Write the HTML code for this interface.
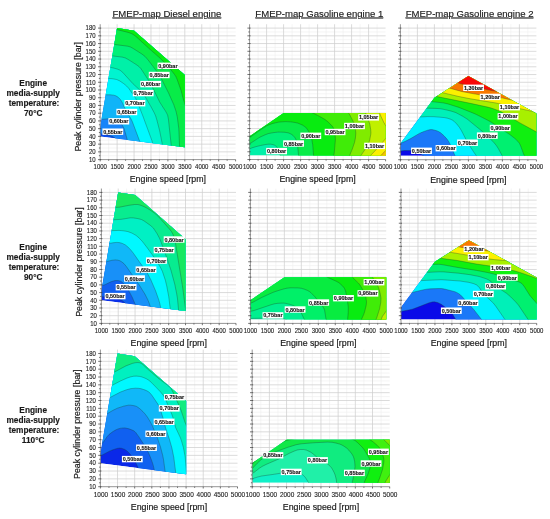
<!DOCTYPE html>
<html><head><meta charset="utf-8"><title>FMEP maps</title><style>html,body{margin:0;padding:0;background:#fff;overflow:hidden;}
svg{display:block;}
text{font-family:'Liberation Sans',Arial,sans-serif;}
.tk{font-size:6.65px;fill:#222;stroke:#222;stroke-width:0.12px;}
.at{font-size:8.8px;fill:#1a1a1a;stroke:#1a1a1a;stroke-width:0.18px;}
.yt{font-size:9.4px;}
.ti{font-size:9.55px;fill:#1a1a1a;stroke:#1a1a1a;stroke-width:0.15px;text-decoration:underline;}
.rl{font-size:8.3px;font-weight:bold;fill:#1a1a1a;stroke:#1a1a1a;stroke-width:0.15px;}
.lb{font-size:5.5px;font-weight:bold;fill:#111;stroke:#111;stroke-width:0.12px;}
</style></head>
<body><svg width="550" height="519" viewBox="0 0 550 519">
<rect width="550" height="519" fill="#fff"/>
<path d="M108.66 24.23V159.60M125.59 24.23V159.60M142.51 24.23V159.60M159.44 24.23V159.60M176.36 24.23V159.60M193.29 24.23V159.60M210.21 24.23V159.60M227.14 24.23V159.60M100.20 155.73H235.60M100.20 148.00H235.60M100.20 140.26H235.60M100.20 132.53H235.60M100.20 124.79H235.60M100.20 117.06H235.60M100.20 109.32H235.60M100.20 101.59H235.60M100.20 93.85H235.60M100.20 86.11H235.60M100.20 78.38H235.60M100.20 70.64H235.60M100.20 62.91H235.60M100.20 55.17H235.60M100.20 47.44H235.60M100.20 39.70H235.60M100.20 31.97H235.60" stroke="#efefef" stroke-width="0.6" fill="none"/>
<path d="M117.12 24.23V159.60M134.05 24.23V159.60M150.97 24.23V159.60M167.90 24.23V159.60M184.82 24.23V159.60M201.75 24.23V159.60M218.67 24.23V159.60M100.20 151.86H235.60M100.20 144.13H235.60M100.20 136.39H235.60M100.20 128.66H235.60M100.20 120.92H235.60M100.20 113.19H235.60M100.20 105.45H235.60M100.20 97.72H235.60M100.20 89.98H235.60M100.20 82.25H235.60M100.20 74.51H235.60M100.20 66.78H235.60M100.20 59.04H235.60M100.20 51.31H235.60M100.20 43.57H235.60M100.20 35.84H235.60M100.20 28.10H235.60" stroke="#cfcfcf" stroke-width="0.75" fill="none"/>
<path d="M258.10 24.24V159.50M275.10 24.24V159.50M292.10 24.24V159.50M309.10 24.24V159.50M326.10 24.24V159.50M343.10 24.24V159.50M360.10 24.24V159.50M377.10 24.24V159.50M249.60 155.64H385.60M249.60 147.91H385.60M249.60 140.18H385.60M249.60 132.45H385.60M249.60 124.72H385.60M249.60 116.99H385.60M249.60 109.26H385.60M249.60 101.53H385.60M249.60 93.80H385.60M249.60 86.07H385.60M249.60 78.34H385.60M249.60 70.61H385.60M249.60 62.88H385.60M249.60 55.15H385.60M249.60 47.42H385.60M249.60 39.69H385.60M249.60 31.96H385.60" stroke="#efefef" stroke-width="0.6" fill="none"/>
<path d="M266.60 24.24V159.50M283.60 24.24V159.50M300.60 24.24V159.50M317.60 24.24V159.50M334.60 24.24V159.50M351.60 24.24V159.50M368.60 24.24V159.50M249.60 151.77H385.60M249.60 144.04H385.60M249.60 136.31H385.60M249.60 128.58H385.60M249.60 120.85H385.60M249.60 113.12H385.60M249.60 105.39H385.60M249.60 97.66H385.60M249.60 89.94H385.60M249.60 82.21H385.60M249.60 74.48H385.60M249.60 66.75H385.60M249.60 59.02H385.60M249.60 51.29H385.60M249.60 43.56H385.60M249.60 35.83H385.60M249.60 28.10H385.60" stroke="#cfcfcf" stroke-width="0.75" fill="none"/>
<path d="M408.90 24.23V159.70M425.90 24.23V159.70M442.90 24.23V159.70M459.90 24.23V159.70M476.90 24.23V159.70M493.90 24.23V159.70M510.90 24.23V159.70M527.90 24.23V159.70M400.40 155.83H536.40M400.40 148.09H536.40M400.40 140.35H536.40M400.40 132.61H536.40M400.40 124.86H536.40M400.40 117.12H536.40M400.40 109.38H536.40M400.40 101.64H536.40M400.40 93.90H536.40M400.40 86.16H536.40M400.40 78.42H536.40M400.40 70.68H536.40M400.40 62.94H536.40M400.40 55.19H536.40M400.40 47.45H536.40M400.40 39.71H536.40M400.40 31.97H536.40" stroke="#efefef" stroke-width="0.6" fill="none"/>
<path d="M417.40 24.23V159.70M434.40 24.23V159.70M451.40 24.23V159.70M468.40 24.23V159.70M485.40 24.23V159.70M502.40 24.23V159.70M519.40 24.23V159.70M400.40 151.96H536.40M400.40 144.22H536.40M400.40 136.48H536.40M400.40 128.74H536.40M400.40 120.99H536.40M400.40 113.25H536.40M400.40 105.51H536.40M400.40 97.77H536.40M400.40 90.03H536.40M400.40 82.29H536.40M400.40 74.55H536.40M400.40 66.81H536.40M400.40 59.06H536.40M400.40 51.32H536.40M400.40 43.58H536.40M400.40 35.84H536.40M400.40 28.10H536.40" stroke="#cfcfcf" stroke-width="0.75" fill="none"/>
<path d="M109.81 188.55V323.40M126.64 188.55V323.40M143.46 188.55V323.40M160.29 188.55V323.40M177.11 188.55V323.40M193.94 188.55V323.40M210.76 188.55V323.40M227.59 188.55V323.40M101.40 319.55H236.00M101.40 311.84H236.00M101.40 304.14H236.00M101.40 296.43H236.00M101.40 288.72H236.00M101.40 281.02H236.00M101.40 273.31H236.00M101.40 265.61H236.00M101.40 257.90H236.00M101.40 250.19H236.00M101.40 242.49H236.00M101.40 234.78H236.00M101.40 227.08H236.00M101.40 219.37H236.00M101.40 211.66H236.00M101.40 203.96H236.00M101.40 196.25H236.00" stroke="#efefef" stroke-width="0.6" fill="none"/>
<path d="M118.23 188.55V323.40M135.05 188.55V323.40M151.88 188.55V323.40M168.70 188.55V323.40M185.53 188.55V323.40M202.35 188.55V323.40M219.18 188.55V323.40M101.40 315.69H236.00M101.40 307.99H236.00M101.40 300.28H236.00M101.40 292.58H236.00M101.40 284.87H236.00M101.40 277.16H236.00M101.40 269.46H236.00M101.40 261.75H236.00M101.40 254.05H236.00M101.40 246.34H236.00M101.40 238.64H236.00M101.40 230.93H236.00M101.40 223.22H236.00M101.40 215.52H236.00M101.40 207.81H236.00M101.40 200.11H236.00M101.40 192.40H236.00" stroke="#cfcfcf" stroke-width="0.75" fill="none"/>
<path d="M258.89 188.55V323.40M275.86 188.55V323.40M292.84 188.55V323.40M309.81 188.55V323.40M326.79 188.55V323.40M343.76 188.55V323.40M360.74 188.55V323.40M377.71 188.55V323.40M250.40 319.55H386.20M250.40 311.84H386.20M250.40 304.14H386.20M250.40 296.43H386.20M250.40 288.72H386.20M250.40 281.02H386.20M250.40 273.31H386.20M250.40 265.61H386.20M250.40 257.90H386.20M250.40 250.19H386.20M250.40 242.49H386.20M250.40 234.78H386.20M250.40 227.08H386.20M250.40 219.37H386.20M250.40 211.66H386.20M250.40 203.96H386.20M250.40 196.25H386.20" stroke="#efefef" stroke-width="0.6" fill="none"/>
<path d="M267.38 188.55V323.40M284.35 188.55V323.40M301.32 188.55V323.40M318.30 188.55V323.40M335.27 188.55V323.40M352.25 188.55V323.40M369.23 188.55V323.40M250.40 315.69H386.20M250.40 307.99H386.20M250.40 300.28H386.20M250.40 292.58H386.20M250.40 284.87H386.20M250.40 277.16H386.20M250.40 269.46H386.20M250.40 261.75H386.20M250.40 254.05H386.20M250.40 246.34H386.20M250.40 238.64H386.20M250.40 230.93H386.20M250.40 223.22H386.20M250.40 215.52H386.20M250.40 207.81H386.20M250.40 200.11H386.20M250.40 192.40H386.20" stroke="#cfcfcf" stroke-width="0.75" fill="none"/>
<path d="M409.48 188.55V323.40M426.44 188.55V323.40M443.41 188.55V323.40M460.37 188.55V323.40M477.33 188.55V323.40M494.29 188.55V323.40M511.26 188.55V323.40M528.22 188.55V323.40M401.00 319.55H536.70M401.00 311.84H536.70M401.00 304.14H536.70M401.00 296.43H536.70M401.00 288.72H536.70M401.00 281.02H536.70M401.00 273.31H536.70M401.00 265.61H536.70M401.00 257.90H536.70M401.00 250.19H536.70M401.00 242.49H536.70M401.00 234.78H536.70M401.00 227.08H536.70M401.00 219.37H536.70M401.00 211.66H536.70M401.00 203.96H536.70M401.00 196.25H536.70" stroke="#efefef" stroke-width="0.6" fill="none"/>
<path d="M417.96 188.55V323.40M434.93 188.55V323.40M451.89 188.55V323.40M468.85 188.55V323.40M485.81 188.55V323.40M502.78 188.55V323.40M519.74 188.55V323.40M401.00 315.69H536.70M401.00 307.99H536.70M401.00 300.28H536.70M401.00 292.58H536.70M401.00 284.87H536.70M401.00 277.16H536.70M401.00 269.46H536.70M401.00 261.75H536.70M401.00 254.05H536.70M401.00 246.34H536.70M401.00 238.64H536.70M401.00 230.93H536.70M401.00 223.22H536.70M401.00 215.52H536.70M401.00 207.81H536.70M401.00 200.11H536.70M401.00 192.40H536.70" stroke="#cfcfcf" stroke-width="0.75" fill="none"/>
<path d="M108.97 349.58V486.70M126.11 349.58V486.70M143.24 349.58V486.70M160.38 349.58V486.70M177.52 349.58V486.70M194.66 349.58V486.70M211.79 349.58V486.70M228.93 349.58V486.70M100.40 482.78H237.50M100.40 474.95H237.50M100.40 467.11H237.50M100.40 459.28H237.50M100.40 451.44H237.50M100.40 443.61H237.50M100.40 435.77H237.50M100.40 427.94H237.50M100.40 420.10H237.50M100.40 412.26H237.50M100.40 404.43H237.50M100.40 396.59H237.50M100.40 388.76H237.50M100.40 380.92H237.50M100.40 373.09H237.50M100.40 365.25H237.50M100.40 357.42H237.50" stroke="#efefef" stroke-width="0.6" fill="none"/>
<path d="M117.54 349.58V486.70M134.68 349.58V486.70M151.81 349.58V486.70M168.95 349.58V486.70M186.09 349.58V486.70M203.22 349.58V486.70M220.36 349.58V486.70M100.40 478.86H237.50M100.40 471.03H237.50M100.40 463.19H237.50M100.40 455.36H237.50M100.40 447.52H237.50M100.40 439.69H237.50M100.40 431.85H237.50M100.40 424.02H237.50M100.40 416.18H237.50M100.40 408.35H237.50M100.40 400.51H237.50M100.40 392.68H237.50M100.40 384.84H237.50M100.40 377.01H237.50M100.40 369.17H237.50M100.40 361.34H237.50M100.40 353.50H237.50" stroke="#cfcfcf" stroke-width="0.75" fill="none"/>
<path d="M260.79 349.58V486.70M277.98 349.58V486.70M295.17 349.58V486.70M312.36 349.58V486.70M329.54 349.58V486.70M346.73 349.58V486.70M363.92 349.58V486.70M381.11 349.58V486.70M252.20 482.78H389.70M252.20 474.95H389.70M252.20 467.11H389.70M252.20 459.28H389.70M252.20 451.44H389.70M252.20 443.61H389.70M252.20 435.77H389.70M252.20 427.94H389.70M252.20 420.10H389.70M252.20 412.26H389.70M252.20 404.43H389.70M252.20 396.59H389.70M252.20 388.76H389.70M252.20 380.92H389.70M252.20 373.09H389.70M252.20 365.25H389.70M252.20 357.42H389.70" stroke="#efefef" stroke-width="0.6" fill="none"/>
<path d="M269.39 349.58V486.70M286.57 349.58V486.70M303.76 349.58V486.70M320.95 349.58V486.70M338.14 349.58V486.70M355.32 349.58V486.70M372.51 349.58V486.70M252.20 478.86H389.70M252.20 471.03H389.70M252.20 463.19H389.70M252.20 455.36H389.70M252.20 447.52H389.70M252.20 439.69H389.70M252.20 431.85H389.70M252.20 424.02H389.70M252.20 416.18H389.70M252.20 408.35H389.70M252.20 400.51H389.70M252.20 392.68H389.70M252.20 384.84H389.70M252.20 377.01H389.70M252.20 369.17H389.70M252.20 361.34H389.70M252.20 353.50H389.70" stroke="#cfcfcf" stroke-width="0.75" fill="none"/>
<clipPath id="cp0"><path d="M100.2 136.4 100.2 127.1 117.1 28.1 134.1 30.8 184.8 75.1 184.8 147.2Z"/></clipPath>
<g clip-path="url(#cp0)">
<path d="M100.2 136.4 100.2 127.1 117.1 28.1 134.1 30.8 184.8 75.1 184.8 147.2Z" fill="#0c4cec"/>
<path d="M98.7 26.1 187.2 26.1 187.2 149.6 118.8 149.6 117.6 143.6 116.8 140.6 116 139.1 114.7 137.8 112.2 136.3 108.7 135.2 104.2 134.2 98.2 133.4 98.2 26.1 98.7 26.1Z" fill="#1884f8" fill-rule="evenodd"/>
<path d="M98.7 26.1 187.2 26.1 187.2 149.6 130.7 149.6 127.2 139.6 125.3 132.6 124 128.6 122.2 125.1 119.7 122.1 118.2 120.9 116.7 120.1 113.2 118.9 109.2 118.7 102.7 119.3 100.7 119.1 98.2 118.4 98.2 26.1 98.7 26.1Z" fill="#10b4f8" fill-rule="evenodd"/>
<path d="M98.7 26.1 187.2 26.1 187.2 149.6 142.6 149.6 141.3 145.6 132.3 121.6 130.8 118.6 126.2 111.1 122.2 102.4 120.5 99.6 118.7 97.8 117.2 96.6 115.7 95.8 113.7 95.2 110.2 94.8 98.2 94.7 98.2 26.1 98.7 26.1Z" fill="#00f8ff" fill-rule="evenodd"/>
<path d="M98.7 26.1 187.2 26.1 187.2 149.6 153.9 149.6 152.9 144.1 151.9 140.6 142.9 116.1 137.2 101.6 136.1 99.1 134.9 97.1 128.7 88.3 126.7 86.1 123.7 83.6 119.7 80.9 116.7 79.5 112.2 78.7 98.2 77.9 98.2 26.1 98.7 26.1Z" fill="#00f4d0" fill-rule="evenodd"/>
<path d="M98.7 26.1 187.2 26.1 187.2 149.6 163.2 149.6 162.1 143.1 159.6 130.6 156.9 120.1 155.7 116.1 154.4 113.1 150.9 106.6 145.1 96.6 143.2 93.6 140.9 91.1 132.8 83.6 122.7 72.4 120.2 70.3 117.7 69.2 113.2 67.9 98.2 65 98.2 26.1 98.7 26.1Z" fill="#00f0a8" fill-rule="evenodd"/>
<path d="M98.7 26.1 187.2 26.1 187.2 149.6 171.7 149.6 168.4 119.1 167.6 115.1 166.1 112.1 159.7 102.1 150.7 83.7 142.2 70.5 140 67.6 138.4 66.1 136.2 64.6 128.2 59.5 125.2 57.9 122.2 57.1 113.2 56 108.7 55.2 103.7 54 98.2 52.4 98.2 26.1 98.7 26.1Z" fill="#00f078" fill-rule="evenodd"/>
<path d="M98.7 26.1 187.2 26.1 187.2 149.6 180.1 149.6 179.5 145.1 178.8 128.6 177.3 117.1 176.1 111.6 173.7 104.5 168.8 93.6 160.8 77.6 158.1 73.1 148.2 60.1 145.2 56.6 142.2 54.3 132.7 48.2 130.2 46.9 127.7 46.2 116.2 44.7 111.7 43.7 105.2 41.5 98.2 38.4 98.2 26.1 98.7 26.1Z" fill="#08ec48" fill-rule="evenodd"/>
<path d="M108.7 26.1 187.2 26.1 187.2 114.6 185.6 106.6 183.3 99.1 181.1 90.6 177 79.1 175.9 76.6 174.6 74.6 168 66.1 160 58.1 149.7 49.1 136.7 37.2 133.7 34.8 131.6 33.6 128.2 32.4 115.7 29.3 110.7 27.3 108.3 26.1 108.7 26.1Z" fill="#08ec10" fill-rule="evenodd"/>
<path d="M118.8 149.6 117.6 143.6 116.8 140.6 116 139.1 114.7 137.8 112.2 136.3 108.7 135.2 104.2 134.2 98.2 133.4M130.7 149.6 127.2 139.6 125.3 132.6 124 128.6 122.2 125.1 119.7 122.1 118.2 120.9 116.7 120.1 113.2 118.9 109.2 118.7 102.7 119.3 100.7 119.1 98.2 118.4M142.6 149.6 141.3 145.6 132.3 121.6 130.8 118.6 126.2 111.1 122.2 102.4 120.5 99.6 118.7 97.8 117.2 96.6 115.7 95.8 113.7 95.2 110.2 94.8 98.2 94.7M153.9 149.6 152.9 144.1 151.9 140.6 142.9 116.1 137.2 101.6 136.1 99.1 134.9 97.1 128.7 88.3 126.7 86.1 123.7 83.6 119.7 80.9 116.7 79.5 112.2 78.7 98.2 77.9M163.2 149.6 162.1 143.1 159.6 130.6 156.9 120.1 155.7 116.1 154.4 113.1 150.9 106.6 145.1 96.6 143.2 93.6 140.9 91.1 132.8 83.6 122.7 72.4 120.2 70.3 117.7 69.2 113.2 67.9 98.2 65M171.7 149.6 168.4 119.1 167.6 115.1 166.1 112.1 159.7 102.1 150.7 83.7 140.9 68.6 139.2 66.8 137 65.1 128.4 59.6 125.2 57.9 122.2 57.1 113.2 56 108.7 55.2 103.7 54 98.2 52.4M180.1 149.6 179.5 145.1 178.8 128.6 177.3 117.1 176.1 111.6 173.7 104.5 168.7 93.3 160.8 77.6 159.4 75.1 157.7 72.6 148.2 60.1 145.2 56.6 142 54.1 132.2 47.9 130.2 46.9 127.7 46.2 116.2 44.7 111.7 43.7 105.2 41.5 98.2 38.4M187.2 114.6 185.6 106.6 183.3 99.1 181.1 90.6 177 79.1 175.9 76.6 174.6 74.6 168 66.1 160 58.1 149.7 49.1 136.7 37.2 133.7 34.8 131.6 33.6 128.2 32.4 115.7 29.3 112.2 27.9 108.3 26.1" fill="none" stroke="#1b3b2b" stroke-opacity="0.6" stroke-width="0.55"/>
</g>
<clipPath id="cp1"><path d="M249.6 155.6 249.6 136.3 283.6 113.1 385.6 113.1 385.6 155.6Z"/></clipPath>
<g clip-path="url(#cp1)">
<path d="M249.6 155.6 249.6 136.3 283.6 113.1 385.6 113.1 385.6 155.6Z" fill="#00f0a8"/>
<path d="M248.1 111.1 388.1 111.1 388.1 158.1 281 158.1 280 155.1 278.6 150.1 277.4 147.6 275.9 146.1 274.4 145.1 272.6 144.5 270.1 144.2 268.1 144.2 265.6 144.5 257.1 146.3 251.3 148.1 247.6 150.2 247.6 111.1 248.1 111.1Z" fill="#00f078" fill-rule="evenodd"/>
<path d="M248.1 111.1 388.1 111.1 388.1 158.1 298.8 158.1 297.4 144.1 296.9 141.6 296.1 139.6 294.2 136.6 292 134.6 289.1 133.1 285.6 132.4 281.1 132.1 277.6 132.1 272.1 132.8 268.1 133.7 264.6 135 260.1 137.1 257.6 138.6 251.6 142.6 249.6 143.6 247.6 144.2 247.6 111.1 248.1 111.1Z" fill="#08ec48" fill-rule="evenodd"/>
<path d="M248.1 111.1 388.1 111.1 388.1 158.1 313.8 158.1 313.4 154.6 312.9 146.1 311.8 139.6 310.5 135.1 307.9 130.1 306.6 128.3 305.5 127.1 304.1 126.1 302.1 124.9 297.6 123.1 292.1 122 287.1 121.6 279.6 121.9 275.6 122.7 270.1 124.4 267.6 125.4 265.1 126.8 258.1 131.4 251.1 136.6 249.6 137.5 247.6 138.3 247.6 111.1 248.1 111.1Z" fill="#08ec10" fill-rule="evenodd"/>
<path d="M248.1 111.1 281.2 111.1 277.1 112.1 273.6 113.3 269.6 114.9 266.1 116.7 261.6 119.5 251.6 127.1 247.6 129.7 247.6 111.1 248.1 111.1ZM307.6 111.1 388.1 111.1 388.1 158.1 333.4 158.1 334.3 152.6 335.4 139.6 335.2 136.1 334.7 132.1 334.1 129.6 333.5 128.1 332.2 126.1 330.3 124.1 327.1 121.1 325.1 119.6 314.6 113.7 311.6 112.5 307.6 111.1Z" fill="#40ec08" fill-rule="evenodd"/>
<path d="M248.1 111.1 256.3 111.1 247.6 117 247.6 111.1 248.1 111.1ZM347.1 111.1 388.1 111.1 388.1 158.1 348.5 158.1 352.1 149.6 354.5 142.6 355.4 138.1 355.8 133.1 355 127.6 353.6 122.4 350.2 115.6 348.6 113.2 346.9 111.1 347.1 111.1Z" fill="#80ec00" fill-rule="evenodd"/>
<path d="M365.1 111.1 388.1 111.1 388.1 158.1 359.5 158.1 361.2 155.1 366 148.1 368.3 144.1 369.6 140.6 370.7 134.6 370.9 132.6 370.8 130.1 369.8 124.1 367.2 116.6 364.8 111.1 365.1 111.1Z" fill="#c0f000" fill-rule="evenodd"/>
<path d="M379.1 111.1 388.1 111.1 388.1 128.5 385.4 125.1 383.6 122.1 380.1 114.4 378.8 111.1 379.1 111.1ZM388.1 135.7 388.1 158.1 369 158.1 370.2 156.1 371.4 154.6 378.1 147.6 388.1 135.7Z" fill="#fcf000" fill-rule="evenodd"/>
<path d="M388.1 148.9 388.1 158.1 379.2 158.1 380.4 156.1 382.6 153.6 385.6 150.7 388.1 148.9Z" fill="#f8c000" fill-rule="evenodd"/>
<path d="M281 158.1 280 155.1 278.6 150.1 277.7 148.1 277 147.1 275.6 145.9 274.4 145.1 273 144.6 270.6 144.2 268.1 144.2 265.1 144.6 260.6 145.5 256.1 146.6 252.1 147.8 250.1 148.7 247.6 150.2M298.8 158.1 297.5 144.6 297.1 142.5 296.5 140.6 295.1 137.9 293.1 135.5 291.1 134.1 288.1 132.8 284.1 132.2 278.1 132.1 273.1 132.7 268.6 133.5 265.6 134.6 260.1 137.1 257.6 138.6 251.6 142.6 249.6 143.6 247.6 144.2M313.8 158.1 312.7 144.6 311.5 138.1 310.3 134.6 307.6 129.7 305.6 127.2 302.5 125.1 297.8 123.1 295.1 122.5 291.1 121.9 285.6 121.6 278.6 122.1 272.6 123.5 268.6 124.9 266.1 126.2 258.6 131.1 251.1 136.6 249.6 137.5 247.6 138.3M281.2 111.1 277.1 112.1 273.6 113.3 269.6 114.9 266.1 116.7 261.6 119.5 251.6 127.1 247.6 129.7M333.4 158.1 334.3 152.6 335.4 139.6 335.2 136.1 334.7 132.1 334.1 129.6 333.5 128.1 332.2 126.1 330.3 124.1 327.1 121.1 325.1 119.6 320.9 117.1 314.3 113.6 311.1 112.3 307.3 111.1M256.3 111.1 247.6 117M348.5 158.1 352.1 149.6 354.5 142.6 355.4 138.1 355.8 133.1 355.6 130.6 354.9 127.1 354.2 124.1 353.5 122.1 349.9 115.1 348.6 113.1 346.9 111.1M359.5 158.1 361.2 155.1 366 148.1 368.3 144.1 369.7 140.1 370.8 134.1 370.9 132.1 370.7 129.6 369.8 124.1 367.2 116.6 364.8 111.1M388.1 128.5 385.6 125.5 383.9 122.6 381.1 116.7 378.8 111.1M369 158.1 370.2 156.1 371.4 154.6 378.1 147.6 388.1 135.7M379.2 158.1 380.4 156.1 382.6 153.6 385.6 150.7 388.1 148.9" fill="none" stroke="#1b3b2b" stroke-opacity="0.6" stroke-width="0.55"/>
</g>
<clipPath id="cp2"><path d="M400.4 155.8 400.4 143.4 434.4 97.8 468.4 76.1 536.4 113.6 536.4 155.8Z"/></clipPath>
<g clip-path="url(#cp2)">
<path d="M400.4 155.8 400.4 143.4 434.4 97.8 468.4 76.1 536.4 113.6 536.4 155.8Z" fill="#0a0ae8"/>
<path d="M398.9 74.1 538.4 74.1 538.4 158.1 427.2 158.1 422.4 155.3 418.3 152.6 416.4 151.8 414.4 151.3 409.9 150.6 404.4 150.5 400.9 150.9 398.4 151.9 398.4 74.1 398.9 74.1Z" fill="#1a78f8" fill-rule="evenodd"/>
<path d="M398.9 74.1 538.4 74.1 538.4 158.1 456.2 158.1 454.7 155.1 451.9 148.1 450.3 144.6 448.4 141 446.4 138.3 442.4 134.2 439.9 132.2 436.1 130.6 431.9 129.6 430.4 129.6 428.4 130 421.9 132.3 418.9 133.7 410.6 138.6 405.8 141.1 401.9 142.7 400.4 143.1 398.4 143.3 398.4 74.1 398.9 74.1Z" fill="#00f0ff" fill-rule="evenodd"/>
<path d="M398.9 74.1 538.4 74.1 538.4 158.1 478.1 158.1 474.8 153.6 468.4 144 466.4 140.4 460.8 129.6 458 125.6 454.9 122.1 452.9 120.4 449.9 119 445.4 117.7 440.4 117.1 430.4 116.6 421.4 116.9 416.9 117.4 414.4 118.2 410.9 120 401.4 126.5 398.4 128.2 398.4 74.1 398.9 74.1Z" fill="#00f0b8" fill-rule="evenodd"/>
<path d="M398.9 74.1 538.4 74.1 538.4 158.1 503.5 158.1 498.3 148.6 496.4 145.6 493.4 142.1 487.1 135.6 475.2 125.6 466.5 118.6 458.8 114.1 455.9 112.7 453.9 111.9 444.9 109.6 439.9 108.6 435.4 108.4 419.9 108 414.9 108.2 409.9 109 404.9 110.3 398.4 112.4 398.4 74.1 398.9 74.1Z" fill="#00f070" fill-rule="evenodd"/>
<path d="M398.9 74.1 538.4 74.1 538.4 158.1 525.7 158.1 523.6 154.1 520.7 146.1 519.4 143.3 517.6 141.1 513.8 137.6 508.4 133.6 490.4 121.7 477.9 115.3 470.4 112 456.9 106.8 446.9 103.7 442.9 102.8 423.9 100.7 416.4 100.2 407.9 100.3 398.4 101.3 398.4 74.1 398.9 74.1Z" fill="#10f010" fill-rule="evenodd"/>
<path d="M398.9 74.1 538.4 74.1 538.4 133.8 536.4 132.1 534.4 130.8 519.9 122.9 501.7 112.1 497.9 110.4 491.4 108.1 487.6 107.1 471.6 103.6 422.4 93.6 416.4 92.6 410.9 92 404.9 91.7 398.4 91.5 398.4 74.1 398.9 74.1Z" fill="#a8f000" fill-rule="evenodd"/>
<path d="M398.9 74.1 538.4 74.1 538.4 112.7 510.9 106.7 496.4 103.1 470.4 98.8 459.1 96.6 443.4 92.9 427.9 87.8 416.9 84.9 407.9 83.3 398.4 82.1 398.4 74.1 398.9 74.1Z" fill="#fcf000" fill-rule="evenodd"/>
<path d="M407.9 74.1 538.4 74.1 538.4 102.6 532.4 102.1 521.4 101.8 518.9 101.6 502.9 98.1 487.4 96.1 470.9 93.3 461.4 91.4 446.4 87.3 442.4 85.8 431.4 81.3 424.9 78.9 417.4 76.5 407.9 74.1Z" fill="#f87800" fill-rule="evenodd"/>
<path d="M436.9 74.1 538.4 74.1 538.4 93.8 523.4 94 519.4 93.9 506.4 92.3 498.4 91.7 492 90.6 471.9 86.6 460.2 83.6 447.4 78.6 436.9 74.1Z" fill="#f80808" fill-rule="evenodd"/>
<path d="M427.2 158.1 422.4 155.3 418.3 152.6 416.4 151.8 414.4 151.3 409.9 150.6 404.4 150.5 400.9 150.9 398.4 151.9M456.2 158.1 454.7 155.1 450.9 145.8 448.9 141.9 447.4 139.6 443.9 135.7 440.4 132.6 437.9 131.2 434.4 130.1 431.9 129.6 429.9 129.7 427.4 130.3 423.9 131.5 419.4 133.4 410.6 138.6 404.7 141.6 401.4 142.9 398.4 143.3M478.1 158.1 474.4 153.1 467.9 143.1 461.4 130.6 459.6 127.6 456.8 124.1 454.4 121.6 452.4 120.1 450.4 119.2 447.4 118.2 444.4 117.6 433.9 116.7 427.4 116.6 420.4 117 417.4 117.3 414.6 118.1 411.4 119.7 408.3 121.6 401.4 126.5 398.4 128.2M503.5 158.1 498.3 148.6 496.4 145.6 493.9 142.6 487.6 136.1 482.5 131.6 467.2 119.1 462.4 116.1 455.8 112.6 450.9 111 443.9 109.4 440.4 108.7 435.9 108.4 420.9 108 415.4 108.2 410.4 108.9 405.4 110.1 398.4 112.4M525.7 158.1 523.6 154.1 520.7 146.1 519.6 143.6 517.9 141.4 515 138.6 509.9 134.6 491.4 122.3 486.9 119.8 474.9 113.8 458.9 107.4 447.9 103.9 443.4 102.9 424.4 100.8 416.4 100.2 407.9 100.3 398.4 101.3M538.4 133.8 536.4 132.1 534.4 130.8 519.9 122.9 501.7 112.1 497.9 110.4 491.4 108.1 487.6 107.1 471.6 103.6 422.4 93.6 416.4 92.6 410.9 92 404.9 91.7 398.4 91.5M538.4 112.7 510.9 106.7 496.4 103.1 470.4 98.8 459.1 96.6 443.4 92.9 427.9 87.8 416.9 84.9 407.9 83.3 398.4 82.1M538.4 102.6 532.4 102.1 521.4 101.8 518.9 101.6 502.9 98.1 487.4 96.1 470.9 93.3 461.4 91.4 445.8 87.1 430.4 80.9 422.4 78 414.9 75.9 407.4 74.1M538.4 93.8 523.4 94 519.4 93.9 506.4 92.3 498.4 91.7 492 90.6 471.9 86.6 460.4 83.6 447.4 78.6 436.7 74.1" fill="none" stroke="#1b3b2b" stroke-opacity="0.6" stroke-width="0.55"/>
</g>
<clipPath id="cp3"><path d="M101.4 300.3 101.4 291 118.2 192.4 135.1 195.1 185.5 239.2 185.5 311.1Z"/></clipPath>
<g clip-path="url(#cp3)">
<path d="M101.4 300.3 101.4 291 118.2 192.4 135.1 195.1 185.5 239.2 185.5 311.1Z" fill="#0a30e8"/>
<path d="M99.9 190.4 187.9 190.4 187.9 313.4 128.9 313.4 127.1 306.9 126.3 304.9 124.5 302.4 122.4 300.8 120.4 299.8 117.9 298.9 110.9 297.2 105.4 296.8 99.4 296.8 99.4 190.4 99.9 190.4Z" fill="#1060f0" fill-rule="evenodd"/>
<path d="M99.9 190.4 187.9 190.4 187.9 313.4 139.8 313.4 135.9 305.9 132.3 297.4 128.9 291 126.9 287.6 125.4 285.5 123.5 283.4 121.9 282.1 120.4 281.2 118.9 280.7 116.9 280.5 114.9 280.6 110.9 281.8 105.4 284.5 103.4 285.3 101.9 285.5 99.4 285.4 99.4 190.4 99.9 190.4Z" fill="#1890f8" fill-rule="evenodd"/>
<path d="M99.9 190.4 187.9 190.4 187.9 313.4 151.9 313.4 150.4 307 149.1 302.9 147.6 299.4 144.9 294.1 139.2 284.9 126.4 266.6 123.9 263.6 121.9 262 119.9 260.8 117.9 260.2 115.4 259.9 111.9 260.3 99.4 263.5 99.4 190.4 99.9 190.4Z" fill="#10b8f8" fill-rule="evenodd"/>
<path d="M99.9 190.4 187.9 190.4 187.9 313.4 161.8 313.4 159.9 303.9 158.6 299.4 155.6 290.9 150.9 279.9 148 274.4 145.3 269.9 140.4 263.3 133.5 253.4 130.7 249.9 127.8 246.9 125.3 244.9 122.3 243.4 119.4 242.6 116.9 242.4 114.4 242.6 99.4 244.9 99.4 190.4 99.9 190.4Z" fill="#00f8ff" fill-rule="evenodd"/>
<path d="M99.9 190.4 187.9 190.4 187.9 313.4 170.8 313.4 168.7 296.4 166.6 285.4 165.2 279.9 162 270.4 158.4 263.9 154.4 257.7 143.6 242.9 141.4 240.3 138.5 237.4 135.9 235.3 131.9 233.1 128.9 231.9 125.4 231.1 121.4 230.6 118.4 230.4 105.9 231 99.4 231.2 99.4 190.4 99.9 190.4Z" fill="#00f0c4" fill-rule="evenodd"/>
<path d="M99.9 190.4 187.9 190.4 187.9 313.4 178.9 313.4 177.5 299.4 176.8 294.4 174.8 284.4 171.2 270.9 164.4 251 160 239.4 157.9 235 154.4 229.4 152.9 227.6 151.4 226.2 144.9 221.5 141.4 219.5 138.4 218.7 133.4 217.9 130.4 217.8 121.4 219.3 113.4 219.8 106.4 219.4 99.4 218.6 99.4 190.4 99.9 190.4Z" fill="#08ec90" fill-rule="evenodd"/>
<path d="M99.9 190.4 187.9 190.4 187.9 313.4 186.6 313.4 185.5 308.4 182.8 288.4 175.2 241.4 174.6 238.9 173.6 235.9 172.5 233.4 171.3 231.4 168.9 228.4 162.7 221.4 158.2 216.4 155.9 214.1 152.9 211.9 147.9 208.6 144.9 207 141.4 205.5 138.4 204.6 134.9 204.5 128.9 205.3 119.4 207.2 115.9 207.4 112.4 207.1 108.7 206.4 104.4 205.3 99.4 203.8 99.4 190.4 99.9 190.4Z" fill="#18e860" fill-rule="evenodd"/>
<path d="M128.9 313.4 127.1 306.9 126.3 304.9 124.5 302.4 122.4 300.8 120.4 299.8 117.9 298.9 110.9 297.2 105.4 296.8 99.4 296.8M139.8 313.4 135.9 305.9 132.3 297.4 128.9 291 126.9 287.6 125.4 285.5 123.5 283.4 121.9 282.1 120.4 281.2 118.9 280.7 116.9 280.5 114.9 280.6 110.9 281.8 105.4 284.5 103.4 285.3 101.9 285.5 99.4 285.4M151.9 313.4 150.4 307 149.1 302.9 147.6 299.4 144.9 294.1 139.2 284.9 126.4 266.6 123.9 263.6 121.9 262 119.9 260.8 117.9 260.2 115.4 259.9 111.9 260.3 99.4 263.5M161.8 313.4 159.9 303.9 158.6 299.4 155.6 290.9 150.9 279.9 148 274.4 145.3 269.9 140.4 263.3 133.5 253.4 130.7 249.9 127.8 246.9 125.3 244.9 122.3 243.4 119.4 242.6 116.9 242.4 114.4 242.6 99.4 244.9M170.8 313.4 168.7 296.4 166.8 286.4 165.4 280.4 162.4 271.4 160.4 267.3 155.9 259.8 147.4 248 142.3 241.4 138.9 237.8 136 235.4 131.9 233.1 127.9 231.6 123.4 230.8 118.9 230.4 99.4 231.2M178.9 313.4 177.5 298.9 176.7 293.9 174.8 284.4 171 270.4 164.4 251 159.8 238.9 157.2 233.9 153.4 228.1 150.4 225.4 143.9 220.8 141.4 219.5 137.9 218.6 133.4 217.9 130.4 217.8 121.4 219.3 113.4 219.8 106.4 219.4 99.4 218.6M186.6 313.4 185.3 307.4 182.8 288.4 175.2 241.4 174.3 237.9 173 234.4 171.7 231.9 170.2 229.9 159.4 217.7 155.6 213.9 151.9 211.2 147.4 208.3 144.4 206.8 140.9 205.3 137.9 204.5 134.4 204.5 128.9 205.3 119.4 207.2 115.9 207.4 112.4 207.1 108.7 206.4 104.4 205.3 99.4 203.8" fill="none" stroke="#1b3b2b" stroke-opacity="0.6" stroke-width="0.55"/>
</g>
<clipPath id="cp4"><path d="M250.4 319.5 250.4 300.3 284.4 277.2 386.2 277.2 386.2 319.5Z"/></clipPath>
<g clip-path="url(#cp4)">
<path d="M250.4 319.5 250.4 300.3 284.4 277.2 386.2 277.2 386.2 319.5Z" fill="#10f0b0"/>
<path d="M248.9 275.2 388.4 275.2 388.4 321.7 288.4 321.7 286.9 320.3 284.9 319.3 282.4 318.6 279.9 318.3 270.9 318 248.4 318.5 248.4 275.2 248.9 275.2Z" fill="#00f090" fill-rule="evenodd"/>
<path d="M248.9 275.2 388.4 275.2 388.4 321.7 305.6 321.7 304.2 319.2 300.9 312.2 299.9 310.7 297.9 308.7 294.9 306.5 292.4 305.2 287.9 303.8 284.4 303.2 278.9 303.3 273.9 303.9 254.4 310.4 251.3 311.2 248.4 311.5 248.4 275.2 248.9 275.2Z" fill="#00f068" fill-rule="evenodd"/>
<path d="M248.9 275.2 388.4 275.2 388.4 321.7 326.7 321.7 326 318.7 325 312.2 324.4 309.7 323.5 307.7 321.8 305.2 314.3 296.2 310.3 292.2 308.4 290.9 305.9 289.8 302.4 288.6 299.9 288 294.9 287.8 288.4 288 285.4 288.5 279.9 290 273.9 292 267.4 294.8 261.4 297.6 252 302.7 250.4 303.2 248.4 303.4 248.4 275.2 248.9 275.2Z" fill="#08ec40" fill-rule="evenodd"/>
<path d="M248.9 275.2 276.7 275.2 255.5 286.7 251.4 288.5 248.4 289.5 248.4 275.2 248.9 275.2ZM323.9 275.2 388.4 275.2 388.4 321.7 347.4 321.7 348.2 313.2 348.3 307.2 347.5 301.2 346.6 295.7 345.6 291.2 344.6 288.7 343.6 287.2 342.3 285.7 338.9 282.7 336.1 281.2 327.4 277.2 323.4 275.2 323.9 275.2Z" fill="#08ec10" fill-rule="evenodd"/>
<path d="M350.9 275.2 388.4 275.2 388.4 321.7 361 321.7 361.8 318.7 363.6 314.7 364.5 312.2 366.1 305.7 366.4 303.7 366.5 301.7 365.8 296.7 365.1 294.2 364.2 292.2 360.1 285.2 358 282.7 352.3 277.2 350.5 275.2 350.9 275.2Z" fill="#40ec08" fill-rule="evenodd"/>
<path d="M371.4 275.2 388.4 275.2 388.4 321.7 375.1 321.7 376.9 317.3 379.6 308.7 380.8 302.2 381 298.2 380.1 293.2 379 289.2 378.1 286.7 376.6 283.7 371.2 275.2 371.4 275.2Z" fill="#80ec00" fill-rule="evenodd"/>
<path d="M388.4 308 388.4 321.7 381.2 321.7 381.3 319.2 382.4 316.4 388.4 308Z" fill="#c0f000" fill-rule="evenodd"/>
<path d="M288.4 321.7 286.9 320.3 284.9 319.3 282.4 318.6 279.9 318.3 270.9 318 248.4 318.5M305.6 321.7 304.2 319.2 300.9 312.2 299.9 310.7 298.4 309.2 295.9 307.1 293.4 305.6 289.9 304.4 285.9 303.4 283.9 303.1 281.4 303.1 277.4 303.4 274.4 303.8 270.9 304.8 254.4 310.4 251.3 311.2 248.4 311.5M326.7 321.7 325.9 318.4 324.6 310.2 323.8 308.2 322.5 306.2 314.8 296.7 310.9 292.7 309.4 291.5 307.4 290.4 304.4 289.2 301.4 288.3 297.9 287.9 290.4 287.8 286.9 288.2 283.4 289 276.9 291 272.9 292.4 261.9 297.4 252.4 302.5 250.4 303.2 248.4 303.4M276.7 275.2 255.5 286.7 251.4 288.5 248.4 289.5M347.4 321.7 348.2 313.2 348.3 307.2 347.5 301.2 346.6 295.7 345.6 291.2 344.6 288.7 343.6 287.2 342.3 285.7 338.9 282.7 336.4 281.3 328.4 277.7 323.4 275.2M361 321.7 361.8 318.7 363.6 314.7 364.5 312.2 366.1 305.7 366.4 303.7 366.5 301.7 365.8 296.7 365.1 294.2 364.2 292.2 360.1 285.2 358.4 283 352.9 277.8 350.5 275.2M375.1 321.7 376.9 317.3 379.6 308.7 380.8 302.2 381 298.2 380.1 293.2 379 289.2 378.1 286.7 376.6 283.7 371.2 275.2M381.2 321.7 381.3 319.2 382.4 316.4 388.4 308" fill="none" stroke="#1b3b2b" stroke-opacity="0.6" stroke-width="0.55"/>
</g>
<clipPath id="cp5"><path d="M401 319.5 401 307.2 434.9 261.8 468.9 240.2 536.7 277.6 536.7 319.5Z"/></clipPath>
<g clip-path="url(#cp5)">
<path d="M401 319.5 401 307.2 434.9 261.8 468.9 240.2 536.7 277.6 536.7 319.5Z" fill="#0a0ae8"/>
<path d="M399.5 238.2 539 238.2 539 321.7 457.4 321.7 455.6 319.2 452.3 313.7 451.1 312.2 450 311.1 443.2 305.7 441.1 304.2 437.5 302.5 434.5 301.8 432 302 428.5 302.9 415.5 308.1 412.3 309.2 408.5 310 399 311.8 399 238.2 399.5 238.2Z" fill="#1a78f8" fill-rule="evenodd"/>
<path d="M399.5 238.2 539 238.2 539 321.7 483.2 321.7 473.5 309.2 462 296.5 460 294.5 457.5 292.9 455 291.8 443.5 288.8 441 288.5 438.5 288.4 430.5 288.8 426.5 289.2 421.5 290.2 406 293.9 399 295.3 399 238.2 399.5 238.2Z" fill="#00f0ff" fill-rule="evenodd"/>
<path d="M399.5 238.2 539 238.2 539 321.7 506.7 321.7 494.2 304.2 491.9 301.7 486 296.4 483.8 294.2 478.5 286.6 477.5 285.6 476.1 284.7 474 283.8 471.5 283 467 282 458.5 280.8 441 279.7 421 280.6 399 282.9 399 238.2 399.5 238.2Z" fill="#00f0b8" fill-rule="evenodd"/>
<path d="M399.5 238.2 539 238.2 539 321.7 529.6 321.7 518.5 305.2 516 302.3 510 296.2 506.5 293.3 496.5 286.7 489.5 280.4 487.5 279.3 484.7 278.2 478.5 276.3 469.7 274.7 458.5 273.2 443.5 271.9 439.5 271.8 429 272.3 413.5 272.1 399 272.3 399 238.2 399.5 238.2Z" fill="#00f070" fill-rule="evenodd"/>
<path d="M399.5 238.2 539 238.2 539 306 530 295.7 524 286.2 522 283.7 520.6 282.7 518.4 281.7 507.5 278 493 273.8 488.5 272.7 476.5 270.4 458 267.5 442 264.6 439 264.3 432 264.4 426.5 264.3 399 262.3 399 238.2 399.5 238.2Z" fill="#10f010" fill-rule="evenodd"/>
<path d="M399.5 238.2 539 238.2 539 280.1 536.8 278.7 533.6 277.2 520 272.5 514 270.8 500.5 267.8 490.5 266.1 476.5 264.1 458 260.6 444.5 258.8 436 257.4 399 252.4 399 238.2 399.5 238.2Z" fill="#a8f000" fill-rule="evenodd"/>
<path d="M399.5 238.2 539 238.2 539 267.3 530.5 265.1 511.5 261.4 506 260.6 494 259.6 480.5 257.8 466 254.9 444 251.3 418.5 245.9 399 242.1 399 238.2 399.5 238.2Z" fill="#fcf000" fill-rule="evenodd"/>
<path d="M428 238.2 539 238.2 539 256.2 529.5 254.4 517.5 252.8 508.5 252 495.5 251.6 489.5 251.2 475.5 248.9 461.5 247.4 458.5 246.8 448 243.5 428 238.2Z" fill="#f87800" fill-rule="evenodd"/>
<path d="M457.4 321.7 455.6 319.2 452.3 313.7 450.1 311.2 443.2 305.7 441.1 304.2 438 302.7 435 301.9 432.5 301.9 429 302.8 415.5 308.1 412 309.3 399 311.8M483.2 321.7 474 309.8 461.7 296.2 460.2 294.7 458.5 293.5 456.5 292.4 454.5 291.6 445.5 289.3 441.5 288.5 438 288.5 430 288.8 427 289.1 423.8 289.7 405.5 294 399 295.3M506.7 321.7 504.4 318.7 496.1 306.7 493.5 303.3 483.8 294.2 482.3 292.2 479.4 287.7 478.1 286.2 476.5 284.9 473.8 283.7 469 282.4 460 281 441.5 279.7 421 280.6 399 282.9M529.6 321.7 518.5 305.2 516 302.3 510.5 296.7 506.5 293.3 496.5 286.7 489.8 280.7 488.2 279.7 486 278.7 479.5 276.6 470 274.7 458.5 273.2 444 271.9 439.5 271.8 429 272.3 413.5 272.1 399 272.3M539 306 530 295.7 524 286.2 522 283.7 520.6 282.7 518.4 281.7 507.5 278 493 273.8 488.5 272.7 476.5 270.4 458 267.5 442 264.6 439 264.3 432 264.4 426.5 264.3 399 262.3M539 280.1 536.8 278.7 533.6 277.2 520 272.5 514 270.8 500.5 267.8 490.5 266.1 476.5 264.1 458 260.6 444.5 258.8 436 257.4 399 252.4M539 267.3 530.5 265.1 511.5 261.4 506 260.6 494 259.6 480.5 257.8 466 254.9 444 251.3 418.5 245.9 399 242.1M539 256.2 529.5 254.4 517.5 252.8 508.5 252 495.5 251.6 489.5 251.2 475.5 248.9 461.5 247.4 458.5 246.8 448 243.5 427.9 238.2" fill="none" stroke="#1b3b2b" stroke-opacity="0.6" stroke-width="0.55"/>
</g>
<clipPath id="cp6"><path d="M100.4 463.2 100.4 453.8 117.5 353.5 134.7 356.2 186.1 401.1 186.1 474.2Z"/></clipPath>
<g clip-path="url(#cp6)">
<path d="M100.4 463.2 100.4 453.8 117.5 353.5 134.7 356.2 186.1 401.1 186.1 474.2Z" fill="#0a28e8"/>
<path d="M98.9 351.5 188.4 351.5 188.4 476.5 140.7 476.5 139.4 471.5 137.4 466.2 135.4 462 132.7 457.5 129.9 454 126.9 450.9 124.4 449.3 121.4 448.3 119.9 448.1 117.9 448.3 112.9 449.8 107.9 452 98.4 457 98.4 351.5 98.9 351.5Z" fill="#1060f0" fill-rule="evenodd"/>
<path d="M98.9 351.5 188.4 351.5 188.4 476.5 155.1 476.5 154.2 469.5 152.5 463 149.8 455.5 146.4 448.5 142.9 442.9 137.9 435.4 135.9 432.7 134.7 431.5 133.4 430.6 129.9 429.1 125.9 428 123.4 427.9 118.9 428.7 115.4 430 111.9 432.3 108.9 434.6 106.9 436.9 103.8 441.5 102.4 443.2 100.9 444.5 98.4 445.6 98.4 351.5 98.9 351.5Z" fill="#1890f8" fill-rule="evenodd"/>
<path d="M98.9 351.5 188.4 351.5 188.4 476.5 165.8 476.5 163.5 459.5 162.6 455 160.4 446.6 156.6 436 151.7 424.5 147.4 417.1 145.5 414.5 143.4 412.1 140.4 409.2 137.9 407.3 136.4 406.4 134.4 405.8 131.9 405.3 128.9 405.2 125.4 405.7 118.9 407.7 114.4 409.6 106.4 414.1 103 416.5 98.4 420.4 98.4 351.5 98.9 351.5Z" fill="#10b8f8" fill-rule="evenodd"/>
<path d="M98.9 351.5 188.4 351.5 188.4 476.5 176.2 476.5 173.8 457.5 171.9 448 169.3 439 165.6 428 163 418 160.7 410.5 159.4 406.9 157.9 404.1 151.7 395 149.4 392.5 147.4 391.1 145.4 390.1 142.9 389.2 140.4 388.6 137.9 388.3 134.9 388.2 130.4 388.7 125.9 389.9 119.9 392.3 109.4 397.8 98.4 403.1 98.4 351.5 98.9 351.5Z" fill="#00f8ff" fill-rule="evenodd"/>
<path d="M98.9 351.5 188.4 351.5 188.4 476.5 186.9 476.5 186.3 472 185.6 460.5 185.1 456 183.5 448 181.7 441.5 180.1 437 175.8 428 172.9 417.5 171.5 413.5 165.4 399 163.4 395.4 161 392.5 156.4 387.5 151.9 383 149 380.5 146.4 378.8 143.4 377.5 140.4 376.6 137.4 376.2 133.4 376.2 130.9 376.8 127.9 377.7 120.9 380.8 111.9 385.5 106.4 387.6 98.4 390.1 98.4 351.5 98.9 351.5Z" fill="#00f0c0" fill-rule="evenodd"/>
<path d="M98.9 351.5 188.4 351.5 188.4 429.6 186.4 425.6 184.9 422 181.1 410.5 179 405.5 172.1 390.5 170.6 388 168.9 386.3 158.9 378.7 148.7 370 142.4 364.2 140.5 363 138.9 362.6 136.9 362.6 134.9 362.8 130.9 363.9 125.4 366.2 115.4 371.5 112.1 373 105.9 375 98.4 376.6 98.4 351.5 98.9 351.5Z" fill="#10ec80" fill-rule="evenodd"/>
<path d="M140.7 476.5 139.5 472 138.1 468 136.2 463.5 134 459.5 131.9 456.4 128.9 452.8 126.4 450.5 124.4 449.3 121.9 448.4 119.9 448.1 117.9 448.3 115.9 448.8 112.9 449.8 109.9 451 98.4 457M155.1 476.5 154.4 470.4 153.3 465.5 151.4 459.7 148.6 453 145.2 446.5 138.4 436.1 135.7 432.5 134.7 431.5 133.4 430.6 128.9 428.8 124.9 427.9 122.9 428 120.9 428.2 118.4 428.8 116.4 429.6 112.9 431.6 109 434.5 106.9 436.9 103.8 441.5 102.4 443.2 100.9 444.5 98.4 445.6M165.8 476.5 163.5 459.5 162.7 455.5 160.5 447 157.4 438 152.4 425.9 149.9 421.2 147.4 417.1 145.4 414.4 142.9 411.6 139.9 408.8 138.2 407.5 136.4 406.4 134.9 405.9 132.9 405.5 130.4 405.2 128.4 405.2 123.9 406.1 117.4 408.2 112.7 410.5 104.9 415.1 101.9 417.4 98.4 420.4M176.2 476.5 173.8 457.5 171.9 448 169.3 439 165.6 428 163 418 160.9 411.2 159.4 407 158.1 404.5 151.9 395.3 149.9 392.9 148.4 391.7 146.4 390.6 143.9 389.6 140.9 388.7 138.4 388.3 135.4 388.2 130.9 388.6 126.4 389.8 120.4 392.1 109.4 397.8 98.4 403.1M186.9 476.5 186.3 471.5 185.2 457 183.4 447.5 181.8 442 180.5 438 175.6 427.5 173.1 418 172.1 415 165.8 400 163.9 396.1 160.6 392 152.4 383.5 150.3 381.5 148.4 380 146.4 378.8 143.9 377.7 141.4 376.8 139.4 376.4 136.4 376.1 133.9 376.2 130.9 376.8 126.9 378.1 120.4 381 111.9 385.5 106.4 387.6 98.4 390.1M188.4 429.6 186.4 425.6 184.9 422 181.1 410.5 179.7 407 172.9 392 171 388.5 168.6 386 158.9 378.7 148.7 370 142.9 364.6 141.4 363.5 139.9 362.8 137.9 362.5 135.4 362.7 132.4 363.4 125.9 365.9 114.9 371.8 112.1 373 105.9 375 98.4 376.6" fill="none" stroke="#1b3b2b" stroke-opacity="0.6" stroke-width="0.55"/>
</g>
<clipPath id="cp7"><path d="M252.2 482.8 252.2 463.2 286.6 439.7 389.7 439.7 389.7 482.8Z"/></clipPath>
<g clip-path="url(#cp7)">
<path d="M252.2 482.8 252.2 463.2 286.6 439.7 389.7 439.7 389.7 482.8Z" fill="#10f0c8"/>
<path d="M250.7 437.7 391.7 437.7 391.7 485.2 310.8 485.2 308.3 482.2 305.2 477.2 303.7 475.6 302.2 474.4 300.2 473.1 298.2 472.4 295.7 471.9 292.7 471.7 289.7 471.8 285.7 472.3 275.2 474.1 261.2 476.1 257.2 477.1 254.2 478.1 252.2 479.1 250.2 480.5 250.2 437.7 250.7 437.7Z" fill="#20f0a8" fill-rule="evenodd"/>
<path d="M250.7 437.7 391.7 437.7 391.7 485.2 336.9 485.2 336.3 479.7 335.2 475.2 334.2 472.7 332.7 469.8 331.4 467.7 330.2 466.3 327.7 464 324.7 461.9 317.7 457.9 312.8 453.7 310.7 452.2 306.6 450.2 304.7 449.6 303.2 449.4 300.2 449.5 297.2 450 294 451.2 289.5 453.2 278.7 459 266.2 464.4 262.2 466.4 259.7 468 254.2 472.3 250.2 474.7 250.2 437.7 250.7 437.7Z" fill="#10ec80" fill-rule="evenodd"/>
<path d="M250.7 437.7 391.7 437.7 391.7 485.2 351.8 485.2 352.4 481.7 354.3 472.7 355 466.7 354.9 464.2 354.6 461.2 353.9 458.2 353.2 456.2 351.7 453.7 348.9 450.2 346.8 448.2 344 446.2 341.3 444.7 339.2 443.9 335.2 442.9 331.7 442.2 327.2 442.1 313.2 442.8 301.2 443.8 296.2 444.7 287.2 447.5 273.1 452.7 269.7 454.2 267.2 455.6 263.7 457.8 260.5 460.2 257.3 463.2 252.7 468.1 250.2 470 250.2 437.7 250.7 437.7Z" fill="#10e848" fill-rule="evenodd"/>
<path d="M250.7 437.7 391.7 437.7 391.7 485.2 363.7 485.2 364 483.2 364.6 481.2 368.1 473.7 369.8 468.7 370.6 464.7 370.7 463.2 370.4 461.7 369.6 459.2 368.4 456.7 365.5 451.7 363.5 448.7 360.2 445.2 356.6 441.7 354.7 440.3 352.2 439.3 350.2 438.7 347.7 438.5 331.7 437.9 304.2 438 297.7 438.4 286.7 440.3 284.7 441 282.2 442.3 268.2 450.8 258.7 458.2 252.2 463.9 250.2 465.5 250.2 437.7 250.7 437.7Z" fill="#10f010" fill-rule="evenodd"/>
<path d="M250.7 437.7 279.5 437.7 275.7 440.3 270.2 444.5 258.3 454.7 250.2 461 250.2 437.7 250.7 437.7ZM367.7 437.7 391.7 437.7 391.7 485.2 376.8 485.2 379.7 478 382.6 469.2 383.8 462.2 383.9 460.2 383.7 458.2 383 455.7 381.5 451.7 380.4 449.2 379.4 447.7 378.1 446.2 375.9 444.2 371.2 440.3 367.4 437.7 367.7 437.7Z" fill="#40f010" fill-rule="evenodd"/>
<path d="M250.7 437.7 271.5 437.7 266.7 441.9 257.2 450.8 253.7 453.7 250.2 456.2 250.2 437.7 250.7 437.7ZM381.7 437.7 391.7 437.7 391.7 448.8 390.5 446.7 389 444.7 381.7 437.7ZM391.7 470.9 391.7 485.2 384.7 485.2 384.9 483.2 385.7 481.2 389.8 474.7 391.7 470.9Z" fill="#80ec00" fill-rule="evenodd"/>
<path d="M310.8 485.2 308.3 482.2 305.2 477.2 302.7 474.8 300.7 473.4 299.2 472.7 296.7 472.1 294.2 471.8 291.2 471.7 287.2 472.1 274.7 474.2 261.7 476 257.7 477 254.2 478.1 252.2 479.1 250.2 480.5M336.9 485.2 336.3 479.7 335.2 475.2 334.2 472.7 332.7 469.8 331.4 467.7 330.2 466.3 327.7 464 324.7 461.9 317.7 457.9 312.8 453.7 310.7 452.2 306.7 450.2 303.7 449.5 300.2 449.5 297.2 450 294 451.2 289.5 453.2 278.7 459 266.2 464.4 262.2 466.4 259.7 468 254.2 472.3 250.2 474.7M351.8 485.2 352.4 481.7 354.3 472.7 355 466.7 354.9 464.2 354.6 461.2 353.9 458.2 353.2 456.2 351.7 453.7 348.9 450.2 346.8 448.2 344 446.2 341.7 444.9 339.7 444.1 336.2 443.1 332.2 442.3 327.7 442.1 314.7 442.7 301.2 443.8 296.2 444.7 287.2 447.5 273.1 452.7 269.7 454.2 267.2 455.6 263.7 457.8 260.5 460.2 257.3 463.2 252.7 468.1 250.2 470M363.7 485.2 364.5 481.7 368.1 473.7 370 467.7 370.5 465.7 370.7 463.7 370.2 460.7 368.9 457.7 365.8 452.2 363.8 449.2 362.2 447.2 357.7 442.7 355.3 440.7 352.7 439.4 349.9 438.7 346.7 438.4 330.7 437.9 302.7 438 297.2 438.5 286.7 440.3 284.7 441 282.2 442.3 268.2 450.8 258.7 458.2 252.2 463.9 250.2 465.5M279.5 437.7 275.7 440.3 270.2 444.5 258.3 454.7 250.2 461M376.8 485.2 379.7 478 382.6 469.2 383.8 462.2 383.9 460.2 383.7 458.2 383 455.7 381.3 451.2 380.2 448.9 379.2 447.4 377.2 445.3 373.5 442.2 367.4 437.7M271.5 437.7 266.7 441.9 257.2 450.8 253.7 453.7 250.2 456.2M391.7 448.8 390.5 446.7 389 444.7 381.7 437.7M384.7 485.2 384.9 483.2 385.7 481.2 389.8 474.7 391.7 470.9" fill="none" stroke="#1b3b2b" stroke-opacity="0.6" stroke-width="0.55"/>
</g>
<path d="M100.20 24.23V159.60H235.60" stroke="#7a7a7a" stroke-width="0.8" fill="none"/>
<path d="M98.00 159.60H101.20M98.90 155.73H100.20M98.00 151.86H101.20M98.90 148.00H100.20M98.00 144.13H101.20M98.90 140.26H100.20M98.00 136.39H101.20M98.90 132.53H100.20M98.00 128.66H101.20M98.90 124.79H100.20M98.00 120.92H101.20M98.90 117.06H100.20M98.00 113.19H101.20M98.90 109.32H100.20M98.00 105.45H101.20M98.90 101.59H100.20M98.00 97.72H101.20M98.90 93.85H100.20M98.00 89.98H101.20M98.90 86.11H100.20M98.00 82.25H101.20M98.90 78.38H100.20M98.00 74.51H101.20M98.90 70.64H100.20M98.00 66.78H101.20M98.90 62.91H100.20M98.00 59.04H101.20M98.90 55.17H100.20M98.00 51.31H101.20M98.90 47.44H100.20M98.00 43.57H101.20M98.90 39.70H100.20M98.00 35.84H101.20M98.90 31.97H100.20M98.00 28.10H101.20M100.20 159.60V161.40M108.66 159.60V160.80M117.12 159.60V161.40M125.59 159.60V160.80M134.05 159.60V161.40M142.51 159.60V160.80M150.97 159.60V161.40M159.44 159.60V160.80M167.90 159.60V161.40M176.36 159.60V160.80M184.82 159.60V161.40M193.29 159.60V160.80M201.75 159.60V161.40M210.21 159.60V160.80M218.67 159.60V161.40M227.14 159.60V160.80M235.60 159.60V161.40" stroke="#3a3a3a" stroke-width="0.7" fill="none"/>
<text transform="translate(95.60,161.85) scale(0.9,1)" text-anchor="end" class="tk">10</text>
<text transform="translate(95.60,154.11) scale(0.9,1)" text-anchor="end" class="tk">20</text>
<text transform="translate(95.60,146.38) scale(0.9,1)" text-anchor="end" class="tk">30</text>
<text transform="translate(95.60,138.64) scale(0.9,1)" text-anchor="end" class="tk">40</text>
<text transform="translate(95.60,130.91) scale(0.9,1)" text-anchor="end" class="tk">50</text>
<text transform="translate(95.60,123.17) scale(0.9,1)" text-anchor="end" class="tk">60</text>
<text transform="translate(95.60,115.44) scale(0.9,1)" text-anchor="end" class="tk">70</text>
<text transform="translate(95.60,107.70) scale(0.9,1)" text-anchor="end" class="tk">80</text>
<text transform="translate(95.60,99.97) scale(0.9,1)" text-anchor="end" class="tk">90</text>
<text transform="translate(95.60,92.23) scale(0.9,1)" text-anchor="end" class="tk">100</text>
<text transform="translate(95.60,84.50) scale(0.9,1)" text-anchor="end" class="tk">110</text>
<text transform="translate(95.60,76.76) scale(0.9,1)" text-anchor="end" class="tk">120</text>
<text transform="translate(95.60,69.03) scale(0.9,1)" text-anchor="end" class="tk">130</text>
<text transform="translate(95.60,61.29) scale(0.9,1)" text-anchor="end" class="tk">140</text>
<text transform="translate(95.60,53.56) scale(0.9,1)" text-anchor="end" class="tk">150</text>
<text transform="translate(95.60,45.82) scale(0.9,1)" text-anchor="end" class="tk">160</text>
<text transform="translate(95.60,38.09) scale(0.9,1)" text-anchor="end" class="tk">170</text>
<text transform="translate(95.60,30.35) scale(0.9,1)" text-anchor="end" class="tk">180</text>
<text transform="translate(80.80,96.85) rotate(-90)" text-anchor="middle" class="at">Peak cylinder pressure [bar]</text>
<text transform="translate(100.20,169.00) scale(0.9,1)" text-anchor="middle" class="tk">1000</text>
<text transform="translate(117.12,169.00) scale(0.9,1)" text-anchor="middle" class="tk">1500</text>
<text transform="translate(134.05,169.00) scale(0.9,1)" text-anchor="middle" class="tk">2000</text>
<text transform="translate(150.97,169.00) scale(0.9,1)" text-anchor="middle" class="tk">2500</text>
<text transform="translate(167.90,169.00) scale(0.9,1)" text-anchor="middle" class="tk">3000</text>
<text transform="translate(184.82,169.00) scale(0.9,1)" text-anchor="middle" class="tk">3500</text>
<text transform="translate(201.75,169.00) scale(0.9,1)" text-anchor="middle" class="tk">4000</text>
<text transform="translate(218.67,169.00) scale(0.9,1)" text-anchor="middle" class="tk">4500</text>
<text transform="translate(235.60,169.00) scale(0.9,1)" text-anchor="middle" class="tk">5000</text>
<text x="167.90" y="182.40" text-anchor="middle" class="at">Engine speed [rpm]</text>
<path d="M249.60 24.24V159.50H385.60" stroke="#7a7a7a" stroke-width="0.8" fill="none"/>
<path d="M247.40 159.50H250.60M248.30 155.64H249.60M247.40 151.77H250.60M248.30 147.91H249.60M247.40 144.04H250.60M248.30 140.18H249.60M247.40 136.31H250.60M248.30 132.45H249.60M247.40 128.58H250.60M248.30 124.72H249.60M247.40 120.85H250.60M248.30 116.99H249.60M247.40 113.12H250.60M248.30 109.26H249.60M247.40 105.39H250.60M248.30 101.53H249.60M247.40 97.66H250.60M248.30 93.80H249.60M247.40 89.94H250.60M248.30 86.07H249.60M247.40 82.21H250.60M248.30 78.34H249.60M247.40 74.48H250.60M248.30 70.61H249.60M247.40 66.75H250.60M248.30 62.88H249.60M247.40 59.02H250.60M248.30 55.15H249.60M247.40 51.29H250.60M248.30 47.42H249.60M247.40 43.56H250.60M248.30 39.69H249.60M247.40 35.83H250.60M248.30 31.96H249.60M247.40 28.10H250.60M249.60 159.50V161.30M258.10 159.50V160.70M266.60 159.50V161.30M275.10 159.50V160.70M283.60 159.50V161.30M292.10 159.50V160.70M300.60 159.50V161.30M309.10 159.50V160.70M317.60 159.50V161.30M326.10 159.50V160.70M334.60 159.50V161.30M343.10 159.50V160.70M351.60 159.50V161.30M360.10 159.50V160.70M368.60 159.50V161.30M377.10 159.50V160.70M385.60 159.50V161.30" stroke="#3a3a3a" stroke-width="0.7" fill="none"/>
<text transform="translate(249.60,168.90) scale(0.9,1)" text-anchor="middle" class="tk">1000</text>
<text transform="translate(266.60,168.90) scale(0.9,1)" text-anchor="middle" class="tk">1500</text>
<text transform="translate(283.60,168.90) scale(0.9,1)" text-anchor="middle" class="tk">2000</text>
<text transform="translate(300.60,168.90) scale(0.9,1)" text-anchor="middle" class="tk">2500</text>
<text transform="translate(317.60,168.90) scale(0.9,1)" text-anchor="middle" class="tk">3000</text>
<text transform="translate(334.60,168.90) scale(0.9,1)" text-anchor="middle" class="tk">3500</text>
<text transform="translate(351.60,168.90) scale(0.9,1)" text-anchor="middle" class="tk">4000</text>
<text transform="translate(368.60,168.90) scale(0.9,1)" text-anchor="middle" class="tk">4500</text>
<text transform="translate(385.60,168.90) scale(0.9,1)" text-anchor="middle" class="tk">5000</text>
<text x="317.60" y="182.30" text-anchor="middle" class="at">Engine speed [rpm]</text>
<path d="M400.40 24.23V159.70H536.40" stroke="#7a7a7a" stroke-width="0.8" fill="none"/>
<path d="M398.20 159.70H401.40M399.10 155.83H400.40M398.20 151.96H401.40M399.10 148.09H400.40M398.20 144.22H401.40M399.10 140.35H400.40M398.20 136.48H401.40M399.10 132.61H400.40M398.20 128.74H401.40M399.10 124.86H400.40M398.20 120.99H401.40M399.10 117.12H400.40M398.20 113.25H401.40M399.10 109.38H400.40M398.20 105.51H401.40M399.10 101.64H400.40M398.20 97.77H401.40M399.10 93.90H400.40M398.20 90.03H401.40M399.10 86.16H400.40M398.20 82.29H401.40M399.10 78.42H400.40M398.20 74.55H401.40M399.10 70.68H400.40M398.20 66.81H401.40M399.10 62.94H400.40M398.20 59.06H401.40M399.10 55.19H400.40M398.20 51.32H401.40M399.10 47.45H400.40M398.20 43.58H401.40M399.10 39.71H400.40M398.20 35.84H401.40M399.10 31.97H400.40M398.20 28.10H401.40M400.40 159.70V161.50M408.90 159.70V160.90M417.40 159.70V161.50M425.90 159.70V160.90M434.40 159.70V161.50M442.90 159.70V160.90M451.40 159.70V161.50M459.90 159.70V160.90M468.40 159.70V161.50M476.90 159.70V160.90M485.40 159.70V161.50M493.90 159.70V160.90M502.40 159.70V161.50M510.90 159.70V160.90M519.40 159.70V161.50M527.90 159.70V160.90M536.40 159.70V161.50" stroke="#3a3a3a" stroke-width="0.7" fill="none"/>
<text transform="translate(400.40,169.10) scale(0.9,1)" text-anchor="middle" class="tk">1000</text>
<text transform="translate(417.40,169.10) scale(0.9,1)" text-anchor="middle" class="tk">1500</text>
<text transform="translate(434.40,169.10) scale(0.9,1)" text-anchor="middle" class="tk">2000</text>
<text transform="translate(451.40,169.10) scale(0.9,1)" text-anchor="middle" class="tk">2500</text>
<text transform="translate(468.40,169.10) scale(0.9,1)" text-anchor="middle" class="tk">3000</text>
<text transform="translate(485.40,169.10) scale(0.9,1)" text-anchor="middle" class="tk">3500</text>
<text transform="translate(502.40,169.10) scale(0.9,1)" text-anchor="middle" class="tk">4000</text>
<text transform="translate(519.40,169.10) scale(0.9,1)" text-anchor="middle" class="tk">4500</text>
<text transform="translate(536.40,169.10) scale(0.9,1)" text-anchor="middle" class="tk">5000</text>
<text x="468.40" y="182.50" text-anchor="middle" class="at">Engine speed [rpm]</text>
<path d="M101.40 188.55V323.40H236.00" stroke="#7a7a7a" stroke-width="0.8" fill="none"/>
<path d="M99.20 323.40H102.40M100.10 319.55H101.40M99.20 315.69H102.40M100.10 311.84H101.40M99.20 307.99H102.40M100.10 304.14H101.40M99.20 300.28H102.40M100.10 296.43H101.40M99.20 292.58H102.40M100.10 288.72H101.40M99.20 284.87H102.40M100.10 281.02H101.40M99.20 277.16H102.40M100.10 273.31H101.40M99.20 269.46H102.40M100.10 265.61H101.40M99.20 261.75H102.40M100.10 257.90H101.40M99.20 254.05H102.40M100.10 250.19H101.40M99.20 246.34H102.40M100.10 242.49H101.40M99.20 238.64H102.40M100.10 234.78H101.40M99.20 230.93H102.40M100.10 227.08H101.40M99.20 223.22H102.40M100.10 219.37H101.40M99.20 215.52H102.40M100.10 211.66H101.40M99.20 207.81H102.40M100.10 203.96H101.40M99.20 200.11H102.40M100.10 196.25H101.40M99.20 192.40H102.40M101.40 323.40V325.20M109.81 323.40V324.60M118.23 323.40V325.20M126.64 323.40V324.60M135.05 323.40V325.20M143.46 323.40V324.60M151.88 323.40V325.20M160.29 323.40V324.60M168.70 323.40V325.20M177.11 323.40V324.60M185.53 323.40V325.20M193.94 323.40V324.60M202.35 323.40V325.20M210.76 323.40V324.60M219.18 323.40V325.20M227.59 323.40V324.60M236.00 323.40V325.20" stroke="#3a3a3a" stroke-width="0.7" fill="none"/>
<text transform="translate(96.80,325.65) scale(0.9,1)" text-anchor="end" class="tk">10</text>
<text transform="translate(96.80,317.94) scale(0.9,1)" text-anchor="end" class="tk">20</text>
<text transform="translate(96.80,310.24) scale(0.9,1)" text-anchor="end" class="tk">30</text>
<text transform="translate(96.80,302.53) scale(0.9,1)" text-anchor="end" class="tk">40</text>
<text transform="translate(96.80,294.83) scale(0.9,1)" text-anchor="end" class="tk">50</text>
<text transform="translate(96.80,287.12) scale(0.9,1)" text-anchor="end" class="tk">60</text>
<text transform="translate(96.80,279.41) scale(0.9,1)" text-anchor="end" class="tk">70</text>
<text transform="translate(96.80,271.71) scale(0.9,1)" text-anchor="end" class="tk">80</text>
<text transform="translate(96.80,264.00) scale(0.9,1)" text-anchor="end" class="tk">90</text>
<text transform="translate(96.80,256.30) scale(0.9,1)" text-anchor="end" class="tk">100</text>
<text transform="translate(96.80,248.59) scale(0.9,1)" text-anchor="end" class="tk">110</text>
<text transform="translate(96.80,240.89) scale(0.9,1)" text-anchor="end" class="tk">120</text>
<text transform="translate(96.80,233.18) scale(0.9,1)" text-anchor="end" class="tk">130</text>
<text transform="translate(96.80,225.47) scale(0.9,1)" text-anchor="end" class="tk">140</text>
<text transform="translate(96.80,217.77) scale(0.9,1)" text-anchor="end" class="tk">150</text>
<text transform="translate(96.80,210.06) scale(0.9,1)" text-anchor="end" class="tk">160</text>
<text transform="translate(96.80,202.36) scale(0.9,1)" text-anchor="end" class="tk">170</text>
<text transform="translate(96.80,194.65) scale(0.9,1)" text-anchor="end" class="tk">180</text>
<text transform="translate(81.60,262.05) rotate(-90)" text-anchor="middle" class="at">Peak cylinder pressure [bar]</text>
<text transform="translate(101.40,332.80) scale(0.9,1)" text-anchor="middle" class="tk">1000</text>
<text transform="translate(118.23,332.80) scale(0.9,1)" text-anchor="middle" class="tk">1500</text>
<text transform="translate(135.05,332.80) scale(0.9,1)" text-anchor="middle" class="tk">2000</text>
<text transform="translate(151.88,332.80) scale(0.9,1)" text-anchor="middle" class="tk">2500</text>
<text transform="translate(168.70,332.80) scale(0.9,1)" text-anchor="middle" class="tk">3000</text>
<text transform="translate(185.53,332.80) scale(0.9,1)" text-anchor="middle" class="tk">3500</text>
<text transform="translate(202.35,332.80) scale(0.9,1)" text-anchor="middle" class="tk">4000</text>
<text transform="translate(219.18,332.80) scale(0.9,1)" text-anchor="middle" class="tk">4500</text>
<text transform="translate(236.00,332.80) scale(0.9,1)" text-anchor="middle" class="tk">5000</text>
<text x="168.70" y="346.20" text-anchor="middle" class="at">Engine speed [rpm]</text>
<path d="M250.40 188.55V323.40H386.20" stroke="#7a7a7a" stroke-width="0.8" fill="none"/>
<path d="M248.20 323.40H251.40M249.10 319.55H250.40M248.20 315.69H251.40M249.10 311.84H250.40M248.20 307.99H251.40M249.10 304.14H250.40M248.20 300.28H251.40M249.10 296.43H250.40M248.20 292.58H251.40M249.10 288.72H250.40M248.20 284.87H251.40M249.10 281.02H250.40M248.20 277.16H251.40M249.10 273.31H250.40M248.20 269.46H251.40M249.10 265.61H250.40M248.20 261.75H251.40M249.10 257.90H250.40M248.20 254.05H251.40M249.10 250.19H250.40M248.20 246.34H251.40M249.10 242.49H250.40M248.20 238.64H251.40M249.10 234.78H250.40M248.20 230.93H251.40M249.10 227.08H250.40M248.20 223.22H251.40M249.10 219.37H250.40M248.20 215.52H251.40M249.10 211.66H250.40M248.20 207.81H251.40M249.10 203.96H250.40M248.20 200.11H251.40M249.10 196.25H250.40M248.20 192.40H251.40M250.40 323.40V325.20M258.89 323.40V324.60M267.38 323.40V325.20M275.86 323.40V324.60M284.35 323.40V325.20M292.84 323.40V324.60M301.32 323.40V325.20M309.81 323.40V324.60M318.30 323.40V325.20M326.79 323.40V324.60M335.27 323.40V325.20M343.76 323.40V324.60M352.25 323.40V325.20M360.74 323.40V324.60M369.23 323.40V325.20M377.71 323.40V324.60M386.20 323.40V325.20" stroke="#3a3a3a" stroke-width="0.7" fill="none"/>
<text transform="translate(250.40,332.80) scale(0.9,1)" text-anchor="middle" class="tk">1000</text>
<text transform="translate(267.38,332.80) scale(0.9,1)" text-anchor="middle" class="tk">1500</text>
<text transform="translate(284.35,332.80) scale(0.9,1)" text-anchor="middle" class="tk">2000</text>
<text transform="translate(301.32,332.80) scale(0.9,1)" text-anchor="middle" class="tk">2500</text>
<text transform="translate(318.30,332.80) scale(0.9,1)" text-anchor="middle" class="tk">3000</text>
<text transform="translate(335.27,332.80) scale(0.9,1)" text-anchor="middle" class="tk">3500</text>
<text transform="translate(352.25,332.80) scale(0.9,1)" text-anchor="middle" class="tk">4000</text>
<text transform="translate(369.23,332.80) scale(0.9,1)" text-anchor="middle" class="tk">4500</text>
<text transform="translate(386.20,332.80) scale(0.9,1)" text-anchor="middle" class="tk">5000</text>
<text x="318.30" y="346.20" text-anchor="middle" class="at">Engine speed [rpm]</text>
<path d="M401.00 188.55V323.40H536.70" stroke="#7a7a7a" stroke-width="0.8" fill="none"/>
<path d="M398.80 323.40H402.00M399.70 319.55H401.00M398.80 315.69H402.00M399.70 311.84H401.00M398.80 307.99H402.00M399.70 304.14H401.00M398.80 300.28H402.00M399.70 296.43H401.00M398.80 292.58H402.00M399.70 288.72H401.00M398.80 284.87H402.00M399.70 281.02H401.00M398.80 277.16H402.00M399.70 273.31H401.00M398.80 269.46H402.00M399.70 265.61H401.00M398.80 261.75H402.00M399.70 257.90H401.00M398.80 254.05H402.00M399.70 250.19H401.00M398.80 246.34H402.00M399.70 242.49H401.00M398.80 238.64H402.00M399.70 234.78H401.00M398.80 230.93H402.00M399.70 227.08H401.00M398.80 223.22H402.00M399.70 219.37H401.00M398.80 215.52H402.00M399.70 211.66H401.00M398.80 207.81H402.00M399.70 203.96H401.00M398.80 200.11H402.00M399.70 196.25H401.00M398.80 192.40H402.00M401.00 323.40V325.20M409.48 323.40V324.60M417.96 323.40V325.20M426.44 323.40V324.60M434.93 323.40V325.20M443.41 323.40V324.60M451.89 323.40V325.20M460.37 323.40V324.60M468.85 323.40V325.20M477.33 323.40V324.60M485.81 323.40V325.20M494.29 323.40V324.60M502.78 323.40V325.20M511.26 323.40V324.60M519.74 323.40V325.20M528.22 323.40V324.60M536.70 323.40V325.20" stroke="#3a3a3a" stroke-width="0.7" fill="none"/>
<text transform="translate(401.00,332.80) scale(0.9,1)" text-anchor="middle" class="tk">1000</text>
<text transform="translate(417.96,332.80) scale(0.9,1)" text-anchor="middle" class="tk">1500</text>
<text transform="translate(434.93,332.80) scale(0.9,1)" text-anchor="middle" class="tk">2000</text>
<text transform="translate(451.89,332.80) scale(0.9,1)" text-anchor="middle" class="tk">2500</text>
<text transform="translate(468.85,332.80) scale(0.9,1)" text-anchor="middle" class="tk">3000</text>
<text transform="translate(485.81,332.80) scale(0.9,1)" text-anchor="middle" class="tk">3500</text>
<text transform="translate(502.78,332.80) scale(0.9,1)" text-anchor="middle" class="tk">4000</text>
<text transform="translate(519.74,332.80) scale(0.9,1)" text-anchor="middle" class="tk">4500</text>
<text transform="translate(536.70,332.80) scale(0.9,1)" text-anchor="middle" class="tk">5000</text>
<text x="468.85" y="346.20" text-anchor="middle" class="at">Engine speed [rpm]</text>
<path d="M100.40 349.58V486.70H237.50" stroke="#7a7a7a" stroke-width="0.8" fill="none"/>
<path d="M98.20 486.70H101.40M99.10 482.78H100.40M98.20 478.86H101.40M99.10 474.95H100.40M98.20 471.03H101.40M99.10 467.11H100.40M98.20 463.19H101.40M99.10 459.28H100.40M98.20 455.36H101.40M99.10 451.44H100.40M98.20 447.52H101.40M99.10 443.61H100.40M98.20 439.69H101.40M99.10 435.77H100.40M98.20 431.85H101.40M99.10 427.94H100.40M98.20 424.02H101.40M99.10 420.10H100.40M98.20 416.18H101.40M99.10 412.26H100.40M98.20 408.35H101.40M99.10 404.43H100.40M98.20 400.51H101.40M99.10 396.59H100.40M98.20 392.68H101.40M99.10 388.76H100.40M98.20 384.84H101.40M99.10 380.92H100.40M98.20 377.01H101.40M99.10 373.09H100.40M98.20 369.17H101.40M99.10 365.25H100.40M98.20 361.34H101.40M99.10 357.42H100.40M98.20 353.50H101.40M100.40 486.70V488.50M108.97 486.70V487.90M117.54 486.70V488.50M126.11 486.70V487.90M134.68 486.70V488.50M143.24 486.70V487.90M151.81 486.70V488.50M160.38 486.70V487.90M168.95 486.70V488.50M177.52 486.70V487.90M186.09 486.70V488.50M194.66 486.70V487.90M203.22 486.70V488.50M211.79 486.70V487.90M220.36 486.70V488.50M228.93 486.70V487.90M237.50 486.70V488.50" stroke="#3a3a3a" stroke-width="0.7" fill="none"/>
<text transform="translate(95.80,488.95) scale(0.9,1)" text-anchor="end" class="tk">10</text>
<text transform="translate(95.80,481.11) scale(0.9,1)" text-anchor="end" class="tk">20</text>
<text transform="translate(95.80,473.28) scale(0.9,1)" text-anchor="end" class="tk">30</text>
<text transform="translate(95.80,465.44) scale(0.9,1)" text-anchor="end" class="tk">40</text>
<text transform="translate(95.80,457.61) scale(0.9,1)" text-anchor="end" class="tk">50</text>
<text transform="translate(95.80,449.77) scale(0.9,1)" text-anchor="end" class="tk">60</text>
<text transform="translate(95.80,441.94) scale(0.9,1)" text-anchor="end" class="tk">70</text>
<text transform="translate(95.80,434.10) scale(0.9,1)" text-anchor="end" class="tk">80</text>
<text transform="translate(95.80,426.27) scale(0.9,1)" text-anchor="end" class="tk">90</text>
<text transform="translate(95.80,418.43) scale(0.9,1)" text-anchor="end" class="tk">100</text>
<text transform="translate(95.80,410.60) scale(0.9,1)" text-anchor="end" class="tk">110</text>
<text transform="translate(95.80,402.76) scale(0.9,1)" text-anchor="end" class="tk">120</text>
<text transform="translate(95.80,394.93) scale(0.9,1)" text-anchor="end" class="tk">130</text>
<text transform="translate(95.80,387.09) scale(0.9,1)" text-anchor="end" class="tk">140</text>
<text transform="translate(95.80,379.26) scale(0.9,1)" text-anchor="end" class="tk">150</text>
<text transform="translate(95.80,371.42) scale(0.9,1)" text-anchor="end" class="tk">160</text>
<text transform="translate(95.80,363.59) scale(0.9,1)" text-anchor="end" class="tk">170</text>
<text transform="translate(95.80,355.75) scale(0.9,1)" text-anchor="end" class="tk">180</text>
<text transform="translate(80.30,424.20) rotate(-90)" text-anchor="middle" class="at">Peak cylinder pressure [bar]</text>
<text transform="translate(100.90,496.50) scale(0.97,1)" text-anchor="middle" class="tk">1000</text>
<text transform="translate(118.04,496.50) scale(0.97,1)" text-anchor="middle" class="tk">1500</text>
<text transform="translate(135.18,496.50) scale(0.97,1)" text-anchor="middle" class="tk">2000</text>
<text transform="translate(152.31,496.50) scale(0.97,1)" text-anchor="middle" class="tk">2500</text>
<text transform="translate(169.45,496.50) scale(0.97,1)" text-anchor="middle" class="tk">3000</text>
<text transform="translate(186.59,496.50) scale(0.97,1)" text-anchor="middle" class="tk">3500</text>
<text transform="translate(203.72,496.50) scale(0.97,1)" text-anchor="middle" class="tk">4000</text>
<text transform="translate(220.86,496.50) scale(0.97,1)" text-anchor="middle" class="tk">4500</text>
<text transform="translate(238.00,496.50) scale(0.97,1)" text-anchor="middle" class="tk">5000</text>
<text x="168.95" y="510.40" text-anchor="middle" class="at">Engine speed [rpm]</text>
<path d="M252.20 349.58V486.70H389.70" stroke="#7a7a7a" stroke-width="0.8" fill="none"/>
<path d="M250.00 486.70H253.20M250.90 482.78H252.20M250.00 478.86H253.20M250.90 474.95H252.20M250.00 471.03H253.20M250.90 467.11H252.20M250.00 463.19H253.20M250.90 459.28H252.20M250.00 455.36H253.20M250.90 451.44H252.20M250.00 447.52H253.20M250.90 443.61H252.20M250.00 439.69H253.20M250.90 435.77H252.20M250.00 431.85H253.20M250.90 427.94H252.20M250.00 424.02H253.20M250.90 420.10H252.20M250.00 416.18H253.20M250.90 412.26H252.20M250.00 408.35H253.20M250.90 404.43H252.20M250.00 400.51H253.20M250.90 396.59H252.20M250.00 392.68H253.20M250.90 388.76H252.20M250.00 384.84H253.20M250.90 380.92H252.20M250.00 377.01H253.20M250.90 373.09H252.20M250.00 369.17H253.20M250.90 365.25H252.20M250.00 361.34H253.20M250.90 357.42H252.20M250.00 353.50H253.20M252.20 486.70V488.50M260.79 486.70V487.90M269.39 486.70V488.50M277.98 486.70V487.90M286.57 486.70V488.50M295.17 486.70V487.90M303.76 486.70V488.50M312.36 486.70V487.90M320.95 486.70V488.50M329.54 486.70V487.90M338.14 486.70V488.50M346.73 486.70V487.90M355.32 486.70V488.50M363.92 486.70V487.90M372.51 486.70V488.50M381.11 486.70V487.90M389.70 486.70V488.50" stroke="#3a3a3a" stroke-width="0.7" fill="none"/>
<text transform="translate(252.70,496.50) scale(0.97,1)" text-anchor="middle" class="tk">1000</text>
<text transform="translate(269.89,496.50) scale(0.97,1)" text-anchor="middle" class="tk">1500</text>
<text transform="translate(287.07,496.50) scale(0.97,1)" text-anchor="middle" class="tk">2000</text>
<text transform="translate(304.26,496.50) scale(0.97,1)" text-anchor="middle" class="tk">2500</text>
<text transform="translate(321.45,496.50) scale(0.97,1)" text-anchor="middle" class="tk">3000</text>
<text transform="translate(338.64,496.50) scale(0.97,1)" text-anchor="middle" class="tk">3500</text>
<text transform="translate(355.82,496.50) scale(0.97,1)" text-anchor="middle" class="tk">4000</text>
<text transform="translate(373.01,496.50) scale(0.97,1)" text-anchor="middle" class="tk">4500</text>
<text transform="translate(390.20,496.50) scale(0.97,1)" text-anchor="middle" class="tk">5000</text>
<text x="320.95" y="510.40" text-anchor="middle" class="at">Engine speed [rpm]</text>
<rect x="102.4" y="128.5" width="20.8" height="6.4" fill="#fff"/>
<text x="112.8" y="133.7" text-anchor="middle" class="lb">0,55bar</text>
<rect x="108.4" y="118.1" width="20.8" height="6.4" fill="#fff"/>
<text x="118.8" y="123.3" text-anchor="middle" class="lb">0,60bar</text>
<rect x="116.4" y="108.8" width="20.8" height="6.4" fill="#fff"/>
<text x="126.8" y="114.0" text-anchor="middle" class="lb">0,65bar</text>
<rect x="124.5" y="100.0" width="20.8" height="6.4" fill="#fff"/>
<text x="134.9" y="105.2" text-anchor="middle" class="lb">0,70bar</text>
<rect x="132.8" y="89.9" width="20.8" height="6.4" fill="#fff"/>
<text x="143.2" y="95.1" text-anchor="middle" class="lb">0,75bar</text>
<rect x="140.3" y="80.9" width="20.8" height="6.4" fill="#fff"/>
<text x="150.7" y="86.1" text-anchor="middle" class="lb">0,80bar</text>
<rect x="148.8" y="71.8" width="20.8" height="6.4" fill="#fff"/>
<text x="159.2" y="77.0" text-anchor="middle" class="lb">0,85bar</text>
<rect x="157.5" y="62.6" width="20.8" height="6.4" fill="#fff"/>
<text x="167.9" y="67.8" text-anchor="middle" class="lb">0,90bar</text>
<rect x="266.2" y="147.9" width="20.8" height="6.4" fill="#fff"/>
<text x="276.6" y="153.1" text-anchor="middle" class="lb">0,80bar</text>
<rect x="283.2" y="140.3" width="20.8" height="6.4" fill="#fff"/>
<text x="293.6" y="145.5" text-anchor="middle" class="lb">0,85bar</text>
<rect x="300.4" y="132.6" width="20.8" height="6.4" fill="#fff"/>
<text x="310.8" y="137.8" text-anchor="middle" class="lb">0,90bar</text>
<rect x="324.7" y="128.8" width="20.8" height="6.4" fill="#fff"/>
<text x="335.1" y="134.0" text-anchor="middle" class="lb">0,95bar</text>
<rect x="344.1" y="122.8" width="20.8" height="6.4" fill="#fff"/>
<text x="354.5" y="128.0" text-anchor="middle" class="lb">1,00bar</text>
<rect x="358.2" y="114.2" width="20.8" height="6.4" fill="#fff"/>
<text x="368.6" y="119.4" text-anchor="middle" class="lb">1,05bar</text>
<rect x="364.2" y="142.7" width="20.8" height="6.4" fill="#fff"/>
<text x="374.6" y="147.9" text-anchor="middle" class="lb">1,10bar</text>
<rect x="463.2" y="84.6" width="20.8" height="6.4" fill="#fff"/>
<text x="473.6" y="89.8" text-anchor="middle" class="lb">1,30bar</text>
<rect x="479.8" y="93.7" width="20.8" height="6.4" fill="#fff"/>
<text x="490.2" y="98.9" text-anchor="middle" class="lb">1,20bar</text>
<rect x="499.1" y="104.0" width="20.8" height="6.4" fill="#fff"/>
<text x="509.5" y="109.2" text-anchor="middle" class="lb">1,10bar</text>
<rect x="497.6" y="113.1" width="20.8" height="6.4" fill="#fff"/>
<text x="508.0" y="118.3" text-anchor="middle" class="lb">1,00bar</text>
<rect x="489.8" y="124.8" width="20.8" height="6.4" fill="#fff"/>
<text x="500.2" y="130.0" text-anchor="middle" class="lb">0,90bar</text>
<rect x="476.9" y="132.4" width="20.8" height="6.4" fill="#fff"/>
<text x="487.3" y="137.6" text-anchor="middle" class="lb">0,80bar</text>
<rect x="457.1" y="139.5" width="20.8" height="6.4" fill="#fff"/>
<text x="467.5" y="144.7" text-anchor="middle" class="lb">0,70bar</text>
<rect x="435.6" y="145.0" width="20.8" height="6.4" fill="#fff"/>
<text x="446.0" y="150.2" text-anchor="middle" class="lb">0,60bar</text>
<rect x="411.1" y="147.6" width="20.8" height="6.4" fill="#fff"/>
<text x="421.5" y="152.8" text-anchor="middle" class="lb">0,50bar</text>
<rect x="163.7" y="236.3" width="20.8" height="6.4" fill="#fff"/>
<text x="174.1" y="241.5" text-anchor="middle" class="lb">0,80bar</text>
<rect x="153.7" y="246.9" width="20.8" height="6.4" fill="#fff"/>
<text x="164.1" y="252.1" text-anchor="middle" class="lb">0,75bar</text>
<rect x="146.1" y="257.4" width="20.8" height="6.4" fill="#fff"/>
<text x="156.5" y="262.6" text-anchor="middle" class="lb">0,70bar</text>
<rect x="135.6" y="266.4" width="20.8" height="6.4" fill="#fff"/>
<text x="146.0" y="271.6" text-anchor="middle" class="lb">0,65bar</text>
<rect x="124.1" y="275.3" width="20.8" height="6.4" fill="#fff"/>
<text x="134.5" y="280.5" text-anchor="middle" class="lb">0,60bar</text>
<rect x="115.7" y="284.0" width="20.8" height="6.4" fill="#fff"/>
<text x="126.1" y="289.2" text-anchor="middle" class="lb">0,55bar</text>
<rect x="104.7" y="292.9" width="20.8" height="6.4" fill="#fff"/>
<text x="115.1" y="298.1" text-anchor="middle" class="lb">0,50bar</text>
<rect x="262.5" y="312.2" width="20.8" height="6.4" fill="#fff"/>
<text x="272.9" y="317.4" text-anchor="middle" class="lb">0,75bar</text>
<rect x="284.7" y="306.3" width="20.8" height="6.4" fill="#fff"/>
<text x="295.1" y="311.5" text-anchor="middle" class="lb">0,80bar</text>
<rect x="308.3" y="299.3" width="20.8" height="6.4" fill="#fff"/>
<text x="318.7" y="304.5" text-anchor="middle" class="lb">0,85bar</text>
<rect x="333.1" y="295.0" width="20.8" height="6.4" fill="#fff"/>
<text x="343.5" y="300.2" text-anchor="middle" class="lb">0,90bar</text>
<rect x="357.5" y="290.2" width="20.8" height="6.4" fill="#fff"/>
<text x="367.9" y="295.4" text-anchor="middle" class="lb">0,95bar</text>
<rect x="363.6" y="279.0" width="20.8" height="6.4" fill="#fff"/>
<text x="374.0" y="284.2" text-anchor="middle" class="lb">1,00bar</text>
<rect x="463.6" y="245.8" width="20.8" height="6.4" fill="#fff"/>
<text x="474.0" y="251.0" text-anchor="middle" class="lb">1,20bar</text>
<rect x="467.8" y="254.0" width="20.8" height="6.4" fill="#fff"/>
<text x="478.2" y="259.2" text-anchor="middle" class="lb">1,10bar</text>
<rect x="490.3" y="264.6" width="20.8" height="6.4" fill="#fff"/>
<text x="500.7" y="269.8" text-anchor="middle" class="lb">1,00bar</text>
<rect x="496.9" y="274.3" width="20.8" height="6.4" fill="#fff"/>
<text x="507.3" y="279.5" text-anchor="middle" class="lb">0,90bar</text>
<rect x="485.2" y="283.1" width="20.8" height="6.4" fill="#fff"/>
<text x="495.6" y="288.3" text-anchor="middle" class="lb">0,80bar</text>
<rect x="472.9" y="290.8" width="20.8" height="6.4" fill="#fff"/>
<text x="483.3" y="296.0" text-anchor="middle" class="lb">0,70bar</text>
<rect x="457.6" y="299.6" width="20.8" height="6.4" fill="#fff"/>
<text x="468.0" y="304.8" text-anchor="middle" class="lb">0,60bar</text>
<rect x="440.9" y="307.5" width="20.8" height="6.4" fill="#fff"/>
<text x="451.3" y="312.7" text-anchor="middle" class="lb">0,50bar</text>
<rect x="164.1" y="394.0" width="20.8" height="6.4" fill="#fff"/>
<text x="174.5" y="399.2" text-anchor="middle" class="lb">0,75bar</text>
<rect x="158.8" y="405.2" width="20.8" height="6.4" fill="#fff"/>
<text x="169.2" y="410.4" text-anchor="middle" class="lb">0,70bar</text>
<rect x="153.7" y="418.6" width="20.8" height="6.4" fill="#fff"/>
<text x="164.1" y="423.8" text-anchor="middle" class="lb">0,65bar</text>
<rect x="145.4" y="430.6" width="20.8" height="6.4" fill="#fff"/>
<text x="155.8" y="435.8" text-anchor="middle" class="lb">0,60bar</text>
<rect x="136.1" y="444.5" width="20.8" height="6.4" fill="#fff"/>
<text x="146.5" y="449.7" text-anchor="middle" class="lb">0,55bar</text>
<rect x="121.9" y="455.9" width="20.8" height="6.4" fill="#fff"/>
<text x="132.3" y="461.1" text-anchor="middle" class="lb">0,50bar</text>
<rect x="262.5" y="452.1" width="20.8" height="6.4" fill="#fff"/>
<text x="272.9" y="457.3" text-anchor="middle" class="lb">0,85bar</text>
<rect x="280.8" y="468.7" width="20.8" height="6.4" fill="#fff"/>
<text x="291.2" y="473.9" text-anchor="middle" class="lb">0,75bar</text>
<rect x="307.1" y="457.1" width="20.8" height="6.4" fill="#fff"/>
<text x="317.5" y="462.3" text-anchor="middle" class="lb">0,80bar</text>
<rect x="344.0" y="469.7" width="20.8" height="6.4" fill="#fff"/>
<text x="354.4" y="474.9" text-anchor="middle" class="lb">0,85bar</text>
<rect x="360.7" y="460.3" width="20.8" height="6.4" fill="#fff"/>
<text x="371.1" y="465.5" text-anchor="middle" class="lb">0,90bar</text>
<rect x="368.0" y="448.6" width="20.8" height="6.4" fill="#fff"/>
<text x="378.4" y="453.8" text-anchor="middle" class="lb">0,95bar</text>
<text x="166.90" y="16.5" text-anchor="middle" class="ti">FMEP-map Diesel engine</text>
<text x="319.30" y="16.5" text-anchor="middle" class="ti">FMEP-map Gasoline engine 1</text>
<text x="469.60" y="16.5" text-anchor="middle" class="ti">FMEP-map Gasoline engine 2</text>
<text x="33.2" y="85.90" text-anchor="middle" class="rl">Engine</text>
<text x="33.2" y="95.80" text-anchor="middle" class="rl">media-supply</text>
<text x="34.0" y="105.70" text-anchor="middle" class="rl">temperature:</text>
<text x="33.2" y="115.60" text-anchor="middle" class="rl">70°C</text>
<text x="33.2" y="250.00" text-anchor="middle" class="rl">Engine</text>
<text x="33.2" y="259.90" text-anchor="middle" class="rl">media-supply</text>
<text x="34.0" y="269.80" text-anchor="middle" class="rl">temperature:</text>
<text x="33.2" y="279.70" text-anchor="middle" class="rl">90°C</text>
<text x="33.2" y="412.80" text-anchor="middle" class="rl">Engine</text>
<text x="33.2" y="422.70" text-anchor="middle" class="rl">media-supply</text>
<text x="34.0" y="432.60" text-anchor="middle" class="rl">temperature:</text>
<text x="33.2" y="442.50" text-anchor="middle" class="rl">110°C</text>
</svg></body></html>
